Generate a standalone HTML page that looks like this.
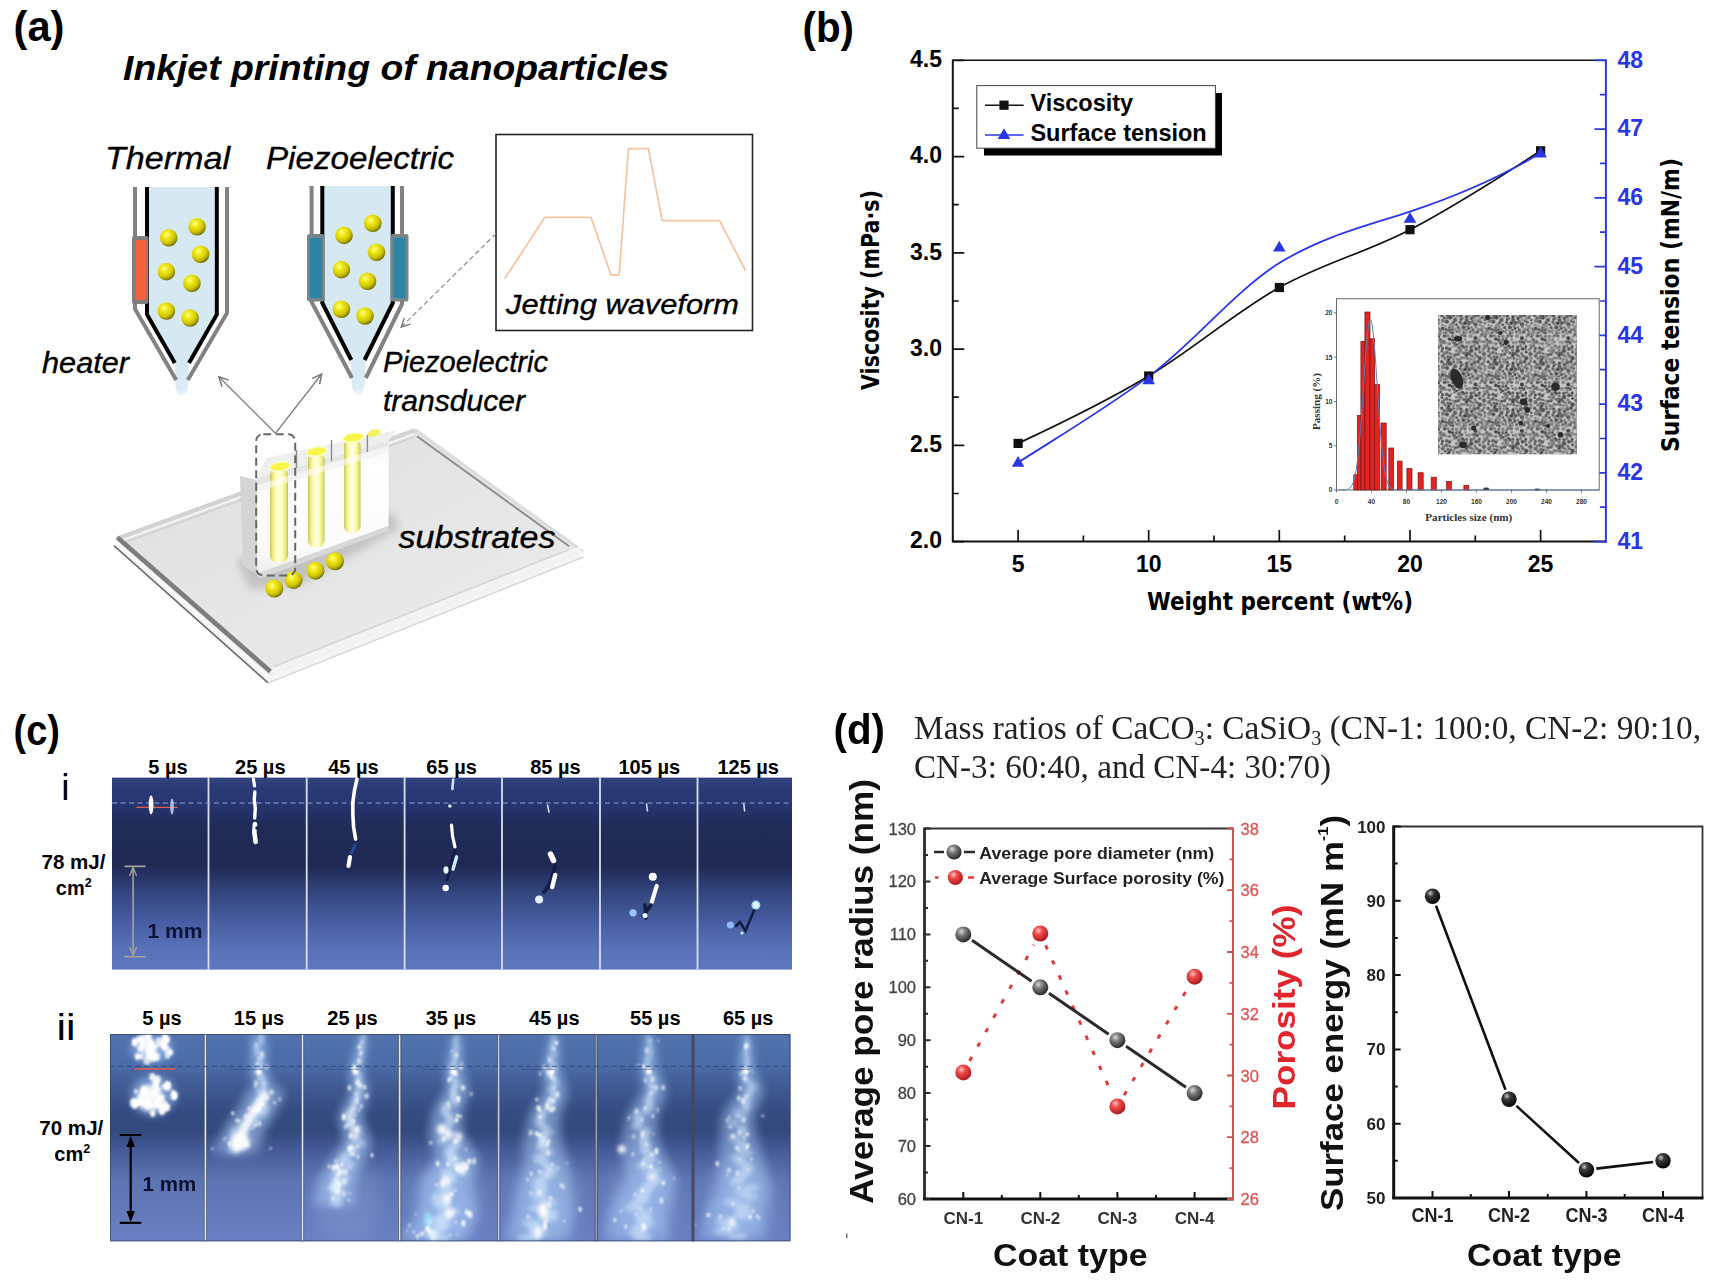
<!DOCTYPE html>
<html lang="en"><head><meta charset="utf-8"><title>Inkjet printing of nanoparticles</title>
<style>
html,body{margin:0;padding:0;background:#fff;}
body{width:1725px;height:1282px;overflow:hidden;position:relative;}
svg{position:absolute;left:0;top:0;display:block;}
text{font-family:"Liberation Sans",sans-serif;fill:#000;}
.cal{font-family:"Liberation Sans",sans-serif;}
.ver{font-family:"DejaVu Sans","Liberation Sans",sans-serif;}
.ser{font-family:"Liberation Serif",serif;}
.b{font-weight:bold;}
.i{font-style:italic;}
.th{stroke:#000;stroke-width:0.35px;}
</style></head><body>
<svg width="1725" height="1282" viewBox="0 0 1725 1282">
<defs>
<radialGradient id="gBall" cx="0.38" cy="0.33" r="0.72">
<stop offset="0" stop-color="#ffff8c"/><stop offset="0.3" stop-color="#efe814"/><stop offset="0.65" stop-color="#cfc600"/><stop offset="0.88" stop-color="#8f8800"/><stop offset="1" stop-color="#5a5600"/>
</radialGradient>
<radialGradient id="gGray" cx="0.38" cy="0.32" r="0.75">
<stop offset="0" stop-color="#d8d8d8"/><stop offset="0.35" stop-color="#7a7a7a"/><stop offset="1" stop-color="#1c1c1c"/>
</radialGradient>
<radialGradient id="gRed" cx="0.38" cy="0.32" r="0.75">
<stop offset="0" stop-color="#ffc0c0"/><stop offset="0.35" stop-color="#f04848"/><stop offset="1" stop-color="#a01414"/>
</radialGradient>
<radialGradient id="gBlk" cx="0.36" cy="0.3" r="0.75">
<stop offset="0" stop-color="#c8c8c8"/><stop offset="0.3" stop-color="#3a3a3a"/><stop offset="1" stop-color="#000"/>
</radialGradient>
<linearGradient id="gDropT" gradientUnits="userSpaceOnUse" x1="0" y1="360" x2="0" y2="397">
<stop offset="0" stop-color="#d6e9f3"/><stop offset="0.8" stop-color="#dbecf5"/><stop offset="1" stop-color="#e6f2f8" stop-opacity="0.55"/>
</linearGradient>
<linearGradient id="gDropP" gradientUnits="userSpaceOnUse" x1="0" y1="358" x2="0" y2="396">
<stop offset="0" stop-color="#d6e9f3"/><stop offset="0.8" stop-color="#dbecf5"/><stop offset="1" stop-color="#e6f2f8" stop-opacity="0.55"/>
</linearGradient>
<marker id="arG" viewBox="0 0 10 10" refX="9" refY="5" markerWidth="9" markerHeight="9" orient="auto-start-reverse">
<path d="M1,1 L9,5 L1,9" fill="none" stroke="#7a7a7a" stroke-width="1.3"/>
</marker>
<filter id="blur1" x="-20%" y="-20%" width="140%" height="140%"><feGaussianBlur stdDeviation="1"/></filter>
<filter id="blur2" x="-30%" y="-30%" width="160%" height="160%"><feGaussianBlur stdDeviation="2.2"/></filter>
<filter id="blur4" x="-40%" y="-40%" width="180%" height="180%"><feGaussianBlur stdDeviation="4.5"/></filter>
<filter id="blur8" x="-50%" y="-50%" width="200%" height="200%"><feGaussianBlur stdDeviation="9"/></filter>
<filter id="blurJ" x="-30%" y="-30%" width="160%" height="160%"><feGaussianBlur stdDeviation="0.55"/></filter>
<filter id="blurK" x="-30%" y="-30%" width="160%" height="160%"><feGaussianBlur stdDeviation="0.9"/></filter>
</defs>

<g id="panel-a">
<text class="b" x="13.5" y="41" font-size="43" textLength="51" lengthAdjust="spacingAndGlyphs">(a)</text>
<text class="b i" x="123" y="80" font-size="35" textLength="546" lengthAdjust="spacingAndGlyphs">Inkjet printing of nanoparticles</text>
<text class="i th" x="105" y="168.5" font-size="31" textLength="125" lengthAdjust="spacingAndGlyphs">Thermal</text>
<text class="i th" x="266" y="168.5" font-size="31" textLength="188" lengthAdjust="spacingAndGlyphs">Piezoelectric</text>
<text class="i th" x="42" y="372.5" font-size="29" textLength="87" lengthAdjust="spacingAndGlyphs">heater</text>
<text class="i th" x="383" y="371.5" font-size="29" textLength="165" lengthAdjust="spacingAndGlyphs">Piezoelectric</text>
<text class="i th" x="383" y="411" font-size="29" textLength="142" lengthAdjust="spacingAndGlyphs">transducer</text>

<!-- thermal nozzle -->
<g id="noz-thermal">
<path d="M174.5,360 L189,360 L188.3,384 Q187.5,396 181.8,396 Q176.2,396 175.4,384 Z" fill="url(#gDropT)"/>
<path d="M149,187 L214.5,187 L214.5,314 L188,362 L175.5,362 L149,314 Z" fill="#d6e9f3"/>
<path d="M135,187 L135,309 L176.2,380" fill="none" stroke="#828282" stroke-width="4"/>
<path d="M227,187 L227,313 L187.8,380" fill="none" stroke="#828282" stroke-width="4"/>
<path d="M147,187 L147,314.5 L174.8,363" fill="none" stroke="#000" stroke-width="4"/>
<path d="M216.8,187 L216.8,314.5 L189,363" fill="none" stroke="#000" stroke-width="4"/>
<rect x="132" y="236" width="16.5" height="68" rx="2" fill="#7f7f7f"/>
<rect x="136" y="240" width="10.5" height="60" fill="#f4623f"/>
<g fill="url(#gBall)">
<circle cx="197.1" cy="226.7" r="8.8"/><circle cx="168.7" cy="237.7" r="8.8"/><circle cx="200.6" cy="254.2" r="8.8"/>
<circle cx="166.4" cy="271.6" r="8.8"/><circle cx="191.9" cy="283.2" r="8.8"/><circle cx="166.4" cy="311" r="8.8"/><circle cx="190.1" cy="318" r="8.8"/>
</g>
</g>
<!-- piezo nozzle -->
<g id="noz-piezo">
<path d="M350.5,357 L365.5,357 L365,383 Q364.2,395 358.3,395 Q352.5,395 351.7,383 Z" fill="url(#gDropP)"/>
<path d="M324,186 L391,186 L391,303 L364.6,359 L351.3,359 L324,303 Z" fill="#d6e9f3"/>
<path d="M311.6,186 L311.6,302 L352,378" fill="none" stroke="#828282" stroke-width="4"/>
<path d="M402,186 L402,304 L365.8,378" fill="none" stroke="#828282" stroke-width="4"/>
<path d="M322.3,186 L322.3,303 L351.3,360" fill="none" stroke="#000" stroke-width="4"/>
<path d="M392.8,186 L392.8,303 L364.6,360" fill="none" stroke="#000" stroke-width="4"/>
<rect x="307" y="234" width="17.5" height="67.5" rx="2.5" fill="#77858a"/>
<rect x="310" y="238" width="12" height="60" fill="#2b86a3"/>
<rect x="390.5" y="234" width="18" height="67.5" rx="2.5" fill="#77858a"/>
<rect x="393.5" y="238" width="12" height="60" fill="#2b86a3"/>
<g fill="url(#gBall)">
<circle cx="372.8" cy="223.2" r="8.8"/><circle cx="344" cy="235.4" r="8.8"/><circle cx="376.5" cy="252.2" r="8.8"/>
<circle cx="341.4" cy="269.6" r="8.8"/><circle cx="367.5" cy="281.2" r="8.8"/><circle cx="341.4" cy="309.3" r="8.8"/><circle cx="365" cy="316" r="8.8"/>
</g>
</g>
<!-- arrows from dashed box -->
<path d="M275.4,433.3 L218.8,376.8" stroke="#7a7a7a" stroke-width="1.3" fill="none" marker-end="url(#arG)"/>
<path d="M275.4,433.3 L321.7,374" stroke="#7a7a7a" stroke-width="1.3" fill="none" marker-end="url(#arG)"/>
<!-- waveform box -->
<rect x="496" y="134.5" width="256.5" height="196" fill="#fff" stroke="#222" stroke-width="1.6"/>
<path d="M504.8,278.5 L544.8,217.4 L591,217.4 L611,274.8 L619.2,274.8 L628.4,148.7 L648.4,148.7 L662.1,220.6 L719.6,220.6 L745.8,271" fill="none" stroke="#f4c3a0" stroke-width="1.7" stroke-linejoin="round"/>
<text class="i th" x="506" y="313.5" font-size="28" textLength="233" lengthAdjust="spacingAndGlyphs">Jetting waveform</text>
<path d="M496,233.6 L401.2,327.2" stroke="#8a8a8a" stroke-width="1.2" stroke-dasharray="5,3" fill="none" marker-end="url(#arG)"/>

<!-- substrate plate -->
<g id="substrate">
<defs>
<linearGradient id="gPlate" x1="0" y1="0" x2="1" y2="1">
<stop offset="0" stop-color="#dedede"/><stop offset="0.5" stop-color="#e6e6e6"/><stop offset="1" stop-color="#ececec"/>
</linearGradient>
<linearGradient id="gCol" x1="0" y1="0" x2="1" y2="0">
<stop offset="0" stop-color="#c2c264"/><stop offset="0.12" stop-color="#e6e67a"/><stop offset="0.3" stop-color="#fbfbb4"/><stop offset="0.52" stop-color="#ffffe6"/><stop offset="0.72" stop-color="#fafaa8"/><stop offset="0.9" stop-color="#e4e470"/><stop offset="1" stop-color="#bcbc5a"/>
</linearGradient>
<linearGradient id="gFace" x1="0" y1="0" x2="0" y2="1">
<stop offset="0" stop-color="#f4f4f4"/><stop offset="0.2" stop-color="#ffffff"/><stop offset="0.8" stop-color="#fbfbfb"/><stop offset="1" stop-color="#ececec"/>
</linearGradient>
</defs>
<!-- lower plate -->
<path d="M113.5,545.5 L415,436 L583.5,557 L268,683 Z" fill="#f4f4f4"/>
<path d="M268,683 L583.5,557" stroke="#d9d9d9" stroke-width="1.5" fill="none"/>
<path d="M113.9,545.6 L267.8,682.6" stroke="#6e6e6e" stroke-width="1.6" fill="none"/>
<!-- upper plate -->
<path d="M115.5,538 L415,429 L583,551.5 L270,675.5 Z" fill="url(#gPlate)"/>
<!-- top-left rim -->
<path d="M117,539 L415,430.5" stroke="#d2d2d2" stroke-width="5" fill="none"/>
<path d="M118,541.5 L414,433.8" stroke="#f6f6f6" stroke-width="1.8" fill="none"/>
<path d="M121,543.8 L413,437.6" stroke="#cfcfcf" stroke-width="1.6" fill="none"/>
<!-- right rim -->
<path d="M415,429.5 L583,551.5" stroke="#dcdcdc" stroke-width="3" fill="none"/>
<path d="M417,436.3 L569.1,546.3" stroke="#8e8e8e" stroke-width="2" fill="none"/>
<!-- bottom-right rim -->
<path d="M270.5,672 L581,549" stroke="#f3f3f3" stroke-width="6" fill="none"/>
<path d="M274,666.5 L569,549.5" stroke="#d6d6d6" stroke-width="1.5" fill="none"/>
<!-- left dark edge -->
<path d="M117.4,537.6 L270.4,671.5" stroke="#7d7d7d" stroke-width="4.6" fill="none"/>
<path d="M115.2,541.6 L268.6,677.2" stroke="#fafafa" stroke-width="2" fill="none"/>
<!-- shadow under head -->
<path d="M236,560 L392,512 L400,528 L300,585 L250,590 Z" fill="#bdbdbd" filter="url(#blur4)" opacity="0.85"/>
</g>
<!-- print head -->
<g id="printhead">
<path d="M240,476 L257,480 L257,574 L243,566 Z" fill="#d4d4d4"/>
<path d="M257,478 L388.5,441 L388.5,526 L257,574 Z" fill="url(#gFace)"/>
<path d="M257,478 L388.5,441 L388.5,452 L257,492 Z" fill="#e6e6e6"/>
<path d="M257,478 L266,458 L397,430 L388.5,441 Z" fill="#efefef"/>
<path d="M257,574 L388.5,526 L388.5,531 L259,579 Z" fill="#d8d8d8"/>
<!-- columns -->
<rect x="270" y="468" width="18" height="94.5" rx="7" fill="url(#gCol)"/>
<rect x="308" y="452.5" width="16.5" height="95" rx="7" fill="url(#gCol)"/>
<rect x="344" y="438.5" width="16.5" height="94.5" rx="7" fill="url(#gCol)"/>
<path d="M257,492 L388.5,452 L388.5,446 L257,485 Z" fill="#ffffff" opacity="0.55"/>
<ellipse cx="280" cy="466.5" rx="10.5" ry="4.6" fill="#f8f64a" stroke="#fbfbd0" stroke-width="1.6" transform="rotate(-9 280 466.5)"/>
<ellipse cx="316.7" cy="451.5" rx="10.5" ry="4.6" fill="#f8f64a" stroke="#fbfbd0" stroke-width="1.6" transform="rotate(-9 316.7 451.5)"/>
<ellipse cx="353.4" cy="437.6" rx="10.5" ry="4.6" fill="#f8f64a" stroke="#fbfbd0" stroke-width="1.6" transform="rotate(-9 353.4 437.6)"/>
<ellipse cx="374" cy="433" rx="7" ry="3.6" fill="#f5f36a" transform="rotate(-14 374 433)"/>
<path d="M296.5,468 L296.5,450 M331.5,461 L331.5,440 M367.4,452 L367.4,435" stroke="#8c8c8c" stroke-width="1.4" fill="none"/>
<!-- balls -->
<g fill="url(#gBall)">
<circle cx="274.3" cy="588.6" r="9"/><circle cx="293.6" cy="580" r="9"/><circle cx="315.5" cy="570.7" r="9"/><circle cx="335" cy="561.3" r="9"/>
</g>
<rect x="256.2" y="434.2" width="39" height="141.2" rx="7" fill="none" stroke="#666" stroke-width="2" stroke-dasharray="8,4.5"/>
</g>
<text class="i th" x="398.5" y="547.7" font-size="31" textLength="157" lengthAdjust="spacingAndGlyphs">substrates</text>
</g>

<g id="panel-b">
<text class="b" x="802.5" y="41.7" font-size="43" textLength="51.5" lengthAdjust="spacingAndGlyphs">(b)</text>
<path d="M952.8,60.3 L1605.9,60.3" stroke="#111" stroke-width="1.6" fill="none"/>
<path d="M952.8,59.5 L952.8,541.6 L1606.9,541.6" stroke="#111" stroke-width="2" fill="none"/>
<path d="M1605.9,59.5 L1605.9,542.6" stroke="#2a36e6" stroke-width="2" fill="none"/>
<path d="M952.8,541.6 h11.5 M952.8,493.5 h6 M952.8,445.3 h11.5 M952.8,397.2 h6 M952.8,349.1 h11.5 M952.8,301.0 h6 M952.8,252.8 h11.5 M952.8,204.7 h6 M952.8,156.6 h11.5 M952.8,108.4 h6 M952.8,60.3 h11.5" stroke="#111" stroke-width="1.7" fill="none"/>
<path d="M1018.1,541.6 v-11.5 M1083.4,541.6 v-6 M1148.7,541.6 v-11.5 M1214.0,541.6 v-6 M1279.3,541.6 v-11.5 M1344.7,541.6 v-6 M1410.0,541.6 v-11.5 M1475.3,541.6 v-6 M1540.6,541.6 v-11.5" stroke="#111" stroke-width="1.7" fill="none"/>
<path d="M1605.9,541.6 h-11.5 M1605.9,507.2 h-6 M1605.9,472.8 h-11.5 M1605.9,438.5 h-6 M1605.9,404.1 h-11.5 M1605.9,369.7 h-6 M1605.9,335.3 h-11.5 M1605.9,301.0 h-6 M1605.9,266.6 h-11.5 M1605.9,232.2 h-6 M1605.9,197.8 h-11.5 M1605.9,163.4 h-6 M1605.9,129.1 h-11.5 M1605.9,94.7 h-6 M1605.9,60.3 h-11.5" stroke="#2a36e6" stroke-width="1.7" fill="none"/>
<text class="b" x="942" y="548.4" font-size="23" text-anchor="end">2.0</text>
<text class="b" x="942" y="452.1" font-size="23" text-anchor="end">2.5</text>
<text class="b" x="942" y="355.9" font-size="23" text-anchor="end">3.0</text>
<text class="b" x="942" y="259.6" font-size="23" text-anchor="end">3.5</text>
<text class="b" x="942" y="163.4" font-size="23" text-anchor="end">4.0</text>
<text class="b" x="942" y="67.1" font-size="23" text-anchor="end">4.5</text>
<text class="b" x="1018.1" y="571.5" font-size="23" text-anchor="middle">5</text>
<text class="b" x="1148.7" y="571.5" font-size="23" text-anchor="middle">10</text>
<text class="b" x="1279.3" y="571.5" font-size="23" text-anchor="middle">15</text>
<text class="b" x="1410.0" y="571.5" font-size="23" text-anchor="middle">20</text>
<text class="b" x="1540.6" y="571.5" font-size="23" text-anchor="middle">25</text>
<text class="b" x="1617.5" y="548.8" font-size="23" fill="#2a36e6" style="fill:#2a36e6">41</text>
<text class="b" x="1617.5" y="480.0" font-size="23" fill="#2a36e6" style="fill:#2a36e6">42</text>
<text class="b" x="1617.5" y="411.3" font-size="23" fill="#2a36e6" style="fill:#2a36e6">43</text>
<text class="b" x="1617.5" y="342.5" font-size="23" fill="#2a36e6" style="fill:#2a36e6">44</text>
<text class="b" x="1617.5" y="273.8" font-size="23" fill="#2a36e6" style="fill:#2a36e6">45</text>
<text class="b" x="1617.5" y="205.0" font-size="23" fill="#2a36e6" style="fill:#2a36e6">46</text>
<text class="b" x="1617.5" y="136.3" font-size="23" fill="#2a36e6" style="fill:#2a36e6">47</text>
<text class="b" x="1617.5" y="67.5" font-size="23" fill="#2a36e6" style="fill:#2a36e6">48</text>
<text class="ver b" transform="translate(878.5,390) rotate(-90)" font-size="24.5" textLength="200" lengthAdjust="spacingAndGlyphs">Viscosity (mPa·s)</text>
<text class="ver b" transform="translate(1679,452) rotate(-90)" font-size="24.5" textLength="294" lengthAdjust="spacingAndGlyphs">Surface tension (mN/m)</text>
<text class="ver b" x="1147" y="610" font-size="24.5" textLength="266" lengthAdjust="spacingAndGlyphs">Weight percent (wt%)</text>
<path d="M1018.1,443.4 C1061.7,423.0 1105.2,402.2 1148.7,376.0 C1192.3,349.9 1235.8,311.9 1279.3,287.5 C1322.9,263.1 1366.4,252.4 1410.0,229.7 C1453.5,207.1 1497.1,179.1 1540.6,150.8" stroke="#111" stroke-width="1.8" fill="none"/>
<path d="M1018.1,462.5 C1061.7,434.7 1105.2,408.8 1148.7,376.6 C1192.3,344.4 1235.8,290.1 1279.3,263.1 C1322.9,236.1 1366.4,225.9 1410.0,211.6 C1453.5,197.2 1497.1,179.2 1540.6,153.1" stroke="#2a36e6" stroke-width="1.8" fill="none"/>
<rect x="1013.5" y="438.8" width="9.2" height="9.2" fill="#111"/>
<rect x="1144.1" y="371.4" width="9.2" height="9.2" fill="#111"/>
<rect x="1274.8" y="282.9" width="9.2" height="9.2" fill="#111"/>
<rect x="1405.4" y="225.1" width="9.2" height="9.2" fill="#111"/>
<rect x="1536.0" y="146.2" width="9.2" height="9.2" fill="#111"/>
<path d="M1018.1,456.0 L1024.4,466.8 L1011.8,466.8 Z" fill="#2a36e6"/>
<path d="M1148.7,373.5 L1155.0,384.3 L1142.4,384.3 Z" fill="#2a36e6"/>
<path d="M1279.3,240.8 L1285.6,251.6 L1273.0,251.6 Z" fill="#2a36e6"/>
<path d="M1410.0,211.9 L1416.3,222.7 L1403.7,222.7 Z" fill="#2a36e6"/>
<path d="M1540.6,146.6 L1546.9,157.4 L1534.3,157.4 Z" fill="#2a36e6"/>
<rect x="984" y="93" width="238" height="62.5" fill="#000"/>
<rect x="976.8" y="85.6" width="238.6" height="62.6" fill="#fff" stroke="#444" stroke-width="1"/>
<path d="M985,105.2 H1023.6" stroke="#111" stroke-width="1.4"/><rect x="999.4" y="100.6" width="9.2" height="9.2" fill="#111"/>
<path d="M985,135 H1023.6" stroke="#2a36e6" stroke-width="1.4"/><path d="M1004,128.3 L1010.3,139.1 L997.7,139.1 Z" fill="#2a36e6"/>
<text class="b" x="1030.4" y="111" font-size="23.5">Viscosity</text>
<text class="b" x="1030.4" y="141" font-size="23.5">Surface tension</text>
<g id="inset">
<defs><pattern id="temP" x="1438" y="315" width="46.4" height="46.4" patternUnits="userSpaceOnUse"><rect width="46.4" height="46.4" fill="#c8c8c8"/><circle cx="21.5" cy="17.3" r="1.4" fill="#848484"/><circle cx="40.2" cy="0.3" r="1.8" fill="#505050"/><circle cx="40.2" cy="46.7" r="1.8" fill="#505050"/><circle cx="41.7" cy="3.7" r="1.8" fill="#8e8e8e"/><circle cx="28.6" cy="1.9" r="1.6" fill="#404040"/><circle cx="32.6" cy="21.0" r="2.0" fill="#848484"/><circle cx="7.3" cy="11.0" r="1.3" fill="#8e8e8e"/><circle cx="23.5" cy="42.9" r="1.8" fill="#7a7a7a"/><circle cx="35.9" cy="17.8" r="2.0" fill="#8e8e8e"/><circle cx="4.7" cy="13.5" r="1.9" fill="#505050"/><circle cx="12.4" cy="9.7" r="1.5" fill="#848484"/><circle cx="37.6" cy="9.3" r="2.2" fill="#5c5c5c"/><circle cx="22.8" cy="1.1" r="1.7" fill="#505050"/><circle cx="22.8" cy="47.5" r="1.7" fill="#505050"/><circle cx="5.6" cy="26.9" r="2.2" fill="#707070"/><circle cx="9.4" cy="0.4" r="1.3" fill="#505050"/><circle cx="9.4" cy="46.8" r="1.3" fill="#505050"/><circle cx="18.5" cy="29.6" r="1.3" fill="#404040"/><circle cx="26.9" cy="8.0" r="1.9" fill="#404040"/><circle cx="44.5" cy="2.5" r="1.8" fill="#666666"/><circle cx="-0.2" cy="-0.1" r="1.3" fill="#707070"/><circle cx="-0.2" cy="46.3" r="1.3" fill="#707070"/><circle cx="46.2" cy="-0.1" r="1.3" fill="#707070"/><circle cx="46.2" cy="46.3" r="1.3" fill="#707070"/><circle cx="32.7" cy="44.1" r="1.5" fill="#7a7a7a"/><circle cx="31.3" cy="27.4" r="2.1" fill="#8e8e8e"/><circle cx="27.1" cy="20.9" r="1.6" fill="#6a6a6a"/><circle cx="-0.6" cy="26.7" r="1.2" fill="#5c5c5c"/><circle cx="45.8" cy="26.7" r="1.2" fill="#5c5c5c"/><circle cx="9.9" cy="20.6" r="1.6" fill="#7a7a7a"/><circle cx="36.4" cy="1.2" r="2.1" fill="#666666"/><circle cx="36.4" cy="47.6" r="2.1" fill="#666666"/><circle cx="37.5" cy="23.1" r="2.0" fill="#404040"/><circle cx="11.5" cy="34.2" r="1.7" fill="#505050"/><circle cx="10.7" cy="44.7" r="1.6" fill="#404040"/><circle cx="17.3" cy="39.9" r="1.6" fill="#5c5c5c"/><circle cx="31.0" cy="7.9" r="2.1" fill="#5c5c5c"/><circle cx="12.0" cy="2.3" r="2.3" fill="#505050"/><circle cx="44.8" cy="16.5" r="1.4" fill="#7a7a7a"/><circle cx="25.8" cy="32.3" r="1.3" fill="#404040"/><circle cx="20.9" cy="32.7" r="2.0" fill="#707070"/><circle cx="33.2" cy="35.8" r="2.2" fill="#505050"/><circle cx="22.9" cy="4.6" r="1.3" fill="#404040"/><circle cx="3.9" cy="36.2" r="1.4" fill="#505050"/><circle cx="0.6" cy="8.2" r="1.7" fill="#848484"/><circle cx="47.0" cy="8.2" r="1.7" fill="#848484"/><circle cx="25.9" cy="18.0" r="1.4" fill="#5c5c5c"/><circle cx="41.2" cy="25.3" r="1.8" fill="#848484"/><circle cx="38.2" cy="33.9" r="1.9" fill="#505050"/><circle cx="28.5" cy="31.5" r="1.6" fill="#606060"/><circle cx="8.4" cy="3.0" r="1.6" fill="#707070"/><circle cx="21.8" cy="24.9" r="1.2" fill="#404040"/><circle cx="5.1" cy="5.6" r="2.2" fill="#7a7a7a"/><circle cx="29.5" cy="11.0" r="1.5" fill="#7a7a7a"/><circle cx="24.0" cy="9.2" r="1.7" fill="#848484"/><circle cx="39.5" cy="28.1" r="1.4" fill="#505050"/><circle cx="41.8" cy="43.2" r="2.2" fill="#505050"/><circle cx="14.7" cy="11.5" r="1.9" fill="#8e8e8e"/><circle cx="18.5" cy="9.7" r="1.5" fill="#5c5c5c"/><circle cx="21.4" cy="28.3" r="1.8" fill="#7a7a7a"/><circle cx="15.1" cy="7.9" r="1.8" fill="#606060"/><circle cx="8.7" cy="33.0" r="1.9" fill="#606060"/><circle cx="41.0" cy="34.0" r="1.4" fill="#707070"/><circle cx="25.1" cy="15.6" r="1.2" fill="#848484"/><circle cx="4.6" cy="33.3" r="1.5" fill="#505050"/><circle cx="24.8" cy="3.3" r="1.2" fill="#666666"/><circle cx="-0.2" cy="30.1" r="1.6" fill="#8e8e8e"/><circle cx="46.2" cy="30.1" r="1.6" fill="#8e8e8e"/><circle cx="32.0" cy="16.7" r="1.5" fill="#606060"/><circle cx="14.9" cy="17.9" r="1.4" fill="#505050"/><circle cx="28.4" cy="40.3" r="1.8" fill="#404040"/><circle cx="6.7" cy="20.9" r="1.9" fill="#5c5c5c"/><circle cx="10.8" cy="15.4" r="2.0" fill="#666666"/><circle cx="16.1" cy="27.9" r="1.8" fill="#5c5c5c"/><circle cx="36.1" cy="31.0" r="1.3" fill="#6a6a6a"/><circle cx="41.9" cy="10.0" r="1.4" fill="#8e8e8e"/><circle cx="-0.0" cy="43.4" r="2.0" fill="#848484"/><circle cx="46.4" cy="43.4" r="2.0" fill="#848484"/><circle cx="18.5" cy="21.5" r="1.9" fill="#848484"/><circle cx="1.7" cy="18.8" r="2.1" fill="#848484"/><circle cx="48.1" cy="18.8" r="2.1" fill="#848484"/><circle cx="21.1" cy="44.8" r="1.2" fill="#606060"/><circle cx="42.8" cy="7.1" r="1.6" fill="#666666"/><circle cx="14.5" cy="39.5" r="1.4" fill="#8e8e8e"/><circle cx="0.7" cy="21.6" r="1.3" fill="#505050"/><circle cx="47.1" cy="21.6" r="1.3" fill="#505050"/><circle cx="29.5" cy="43.4" r="1.6" fill="#6a6a6a"/><circle cx="39.3" cy="16.9" r="1.9" fill="#5c5c5c"/><circle cx="14.5" cy="21.2" r="1.5" fill="#666666"/><circle cx="4.8" cy="40.9" r="2.1" fill="#6a6a6a"/><circle cx="18.9" cy="44.2" r="1.4" fill="#7a7a7a"/><circle cx="19.6" cy="0.9" r="1.7" fill="#848484"/><circle cx="19.6" cy="47.3" r="1.7" fill="#848484"/><circle cx="1.4" cy="13.6" r="1.2" fill="#6a6a6a"/><circle cx="28.3" cy="17.7" r="1.5" fill="#8e8e8e"/><circle cx="24.4" cy="30.8" r="1.4" fill="#404040"/><circle cx="34.6" cy="41.3" r="1.4" fill="#707070"/><circle cx="33.6" cy="3.4" r="1.7" fill="#505050"/><circle cx="27.3" cy="24.7" r="1.4" fill="#848484"/><circle cx="43.6" cy="26.8" r="1.2" fill="#7a7a7a"/><circle cx="13.2" cy="32.6" r="1.3" fill="#8e8e8e"/><circle cx="23.7" cy="20.5" r="1.8" fill="#707070"/><circle cx="-1.8" cy="11.9" r="2.1" fill="#8e8e8e"/><circle cx="44.6" cy="11.9" r="2.1" fill="#8e8e8e"/><circle cx="28.2" cy="37.5" r="1.3" fill="#5c5c5c"/><circle cx="38.6" cy="41.0" r="1.8" fill="#6a6a6a"/><circle cx="-1.2" cy="34.5" r="1.7" fill="#7a7a7a"/><circle cx="45.2" cy="34.5" r="1.7" fill="#7a7a7a"/><circle cx="41.4" cy="31.6" r="1.4" fill="#404040"/><circle cx="33.2" cy="32.0" r="1.8" fill="#606060"/><circle cx="15.7" cy="0.8" r="1.5" fill="#666666"/><circle cx="15.7" cy="47.2" r="1.5" fill="#666666"/><circle cx="3.8" cy="0.4" r="1.6" fill="#505050"/><circle cx="3.8" cy="46.8" r="1.6" fill="#505050"/><circle cx="8.8" cy="37.4" r="1.9" fill="#666666"/><circle cx="9.7" cy="41.7" r="1.4" fill="#5c5c5c"/><circle cx="4.4" cy="10.0" r="1.2" fill="#7a7a7a"/><circle cx="25.5" cy="12.4" r="2.0" fill="#505050"/><circle cx="9.0" cy="6.6" r="2.0" fill="#505050"/><circle cx="6.3" cy="38.2" r="1.3" fill="#6a6a6a"/><circle cx="12.0" cy="38.6" r="1.3" fill="#606060"/><circle cx="12.5" cy="42.3" r="1.6" fill="#505050"/><circle cx="22.0" cy="7.3" r="1.4" fill="#505050"/><circle cx="5.6" cy="17.7" r="1.6" fill="#8e8e8e"/><circle cx="-0.4" cy="39.0" r="2.2" fill="#606060"/><circle cx="46.0" cy="39.0" r="2.2" fill="#606060"/><circle cx="11.4" cy="23.9" r="1.8" fill="#404040"/><circle cx="2.4" cy="24.8" r="1.8" fill="#666666"/><circle cx="28.7" cy="5.0" r="2.0" fill="#5c5c5c"/><circle cx="2.6" cy="28.1" r="1.4" fill="#848484"/><circle cx="23.8" cy="27.0" r="1.4" fill="#505050"/><circle cx="33.4" cy="12.2" r="1.2" fill="#707070"/><circle cx="37.5" cy="4.8" r="1.6" fill="#8e8e8e"/><circle cx="20.3" cy="39.2" r="1.7" fill="#5c5c5c"/><circle cx="41.8" cy="37.1" r="1.4" fill="#404040"/><circle cx="18.3" cy="35.9" r="1.3" fill="#6a6a6a"/><circle cx="16.7" cy="30.8" r="1.3" fill="#6a6a6a"/><circle cx="5.9" cy="2.6" r="1.3" fill="#606060"/><circle cx="18.6" cy="25.0" r="1.8" fill="#6a6a6a"/><circle cx="25.6" cy="38.1" r="1.5" fill="#606060"/><circle cx="7.1" cy="43.7" r="1.4" fill="#666666"/><circle cx="17.1" cy="4.9" r="2.2" fill="#606060"/><circle cx="12.7" cy="17.5" r="1.3" fill="#5c5c5c"/><circle cx="14.3" cy="25.0" r="1.8" fill="#505050"/><circle cx="20.3" cy="12.5" r="1.6" fill="#5c5c5c"/><circle cx="40.7" cy="14.3" r="1.5" fill="#7a7a7a"/><circle cx="7.8" cy="14.4" r="1.4" fill="#505050"/><circle cx="42.0" cy="21.7" r="1.2" fill="#848484"/><circle cx="15.9" cy="42.5" r="1.4" fill="#848484"/><circle cx="16.5" cy="14.2" r="1.6" fill="#8e8e8e"/><circle cx="2.5" cy="15.9" r="1.5" fill="#707070"/><circle cx="11.4" cy="12.4" r="1.4" fill="#606060"/><circle cx="22.3" cy="36.1" r="2.2" fill="#7a7a7a"/><circle cx="37.1" cy="38.4" r="1.3" fill="#606060"/><circle cx="28.5" cy="27.5" r="1.2" fill="#6a6a6a"/><circle cx="35.3" cy="26.7" r="1.5" fill="#5c5c5c"/><circle cx="44.0" cy="19.6" r="1.9" fill="#6a6a6a"/><circle cx="15.2" cy="44.9" r="1.3" fill="#707070"/><circle cx="37.8" cy="26.5" r="1.2" fill="#404040"/><circle cx="0.5" cy="32.5" r="1.4" fill="#606060"/><circle cx="46.9" cy="32.5" r="1.4" fill="#606060"/><circle cx="28.3" cy="34.7" r="1.7" fill="#7a7a7a"/><circle cx="31.6" cy="0.7" r="1.6" fill="#8e8e8e"/><circle cx="31.6" cy="47.1" r="1.6" fill="#8e8e8e"/><circle cx="40.4" cy="6.1" r="1.3" fill="#6a6a6a"/><circle cx="8.4" cy="28.3" r="1.4" fill="#8e8e8e"/><circle cx="11.5" cy="28.7" r="1.6" fill="#707070"/><circle cx="26.2" cy="42.9" r="1.2" fill="#666666"/><circle cx="28.0" cy="15.0" r="1.3" fill="#606060"/><circle cx="36.1" cy="44.1" r="1.7" fill="#8e8e8e"/><circle cx="2.9" cy="30.6" r="1.5" fill="#606060"/><circle cx="13.9" cy="14.7" r="1.6" fill="#5c5c5c"/><circle cx="38.1" cy="12.3" r="1.3" fill="#7a7a7a"/><circle cx="30.6" cy="13.4" r="1.4" fill="#404040"/><circle cx="43.3" cy="14.7" r="1.5" fill="#6a6a6a"/><circle cx="34.5" cy="7.0" r="2.0" fill="#707070"/><circle cx="34.8" cy="14.9" r="1.7" fill="#606060"/><circle cx="18.8" cy="16.2" r="1.5" fill="#707070"/><circle cx="32.6" cy="40.0" r="1.5" fill="#6a6a6a"/><circle cx="24.0" cy="33.0" r="1.3" fill="#848484"/><circle cx="36.7" cy="29.0" r="1.4" fill="#848484"/><circle cx="0.5" cy="5.0" r="1.2" fill="#505050"/><circle cx="46.9" cy="5.0" r="1.2" fill="#505050"/><circle cx="22.2" cy="22.6" r="1.4" fill="#7a7a7a"/><circle cx="21.7" cy="14.5" r="1.5" fill="#848484"/><circle cx="30.5" cy="38.3" r="1.6" fill="#505050"/><circle cx="8.1" cy="17.5" r="1.2" fill="#5c5c5c"/></pattern><filter id="temB" x="-2%" y="-2%" width="104%" height="104%"><feGaussianBlur stdDeviation="0.7"/></filter></defs>
<rect x="1336.5" y="298.7" width="262.7" height="191.3" fill="#fff" stroke="#6a6a6a" stroke-width="1"/>
<rect x="1438" y="315" width="138.8" height="139.2" fill="#9a9a9a"/>
<g filter="url(#temB)"><rect x="1438" y="315" width="138.8" height="139.2" fill="url(#temP)"/><ellipse cx="1456.8" cy="378.7" rx="5.6" ry="10.5" transform="rotate(-22 1456.8 378.7)" fill="#2c2c2c"/><ellipse cx="1458" cy="338.7" rx="4.2" ry="2.6" transform="rotate(0 1458 338.7)" fill="#2c2c2c"/><ellipse cx="1555.5" cy="386.8" rx="4.3" ry="4.3" transform="rotate(0 1555.5 386.8)" fill="#2c2c2c"/><ellipse cx="1523.6" cy="401.8" rx="3.8" ry="3.4" transform="rotate(0 1523.6 401.8)" fill="#2c2c2c"/><ellipse cx="1463" cy="444.8" rx="3.8" ry="3.4" transform="rotate(0 1463 444.8)" fill="#2c2c2c"/><ellipse cx="1527.4" cy="409.9" rx="2.8" ry="2.8" transform="rotate(0 1527.4 409.9)" fill="#2c2c2c"/><ellipse cx="1560.5" cy="434.8" rx="2.8" ry="2.8" transform="rotate(0 1560.5 434.8)" fill="#2c2c2c"/><ellipse cx="1487.4" cy="317.5" rx="2.5" ry="2.5" transform="rotate(0 1487.4 317.5)" fill="#2c2c2c"/><ellipse cx="1506" cy="342.5" rx="2.4" ry="2.4" transform="rotate(0 1506 342.5)" fill="#2c2c2c"/><ellipse cx="1521" cy="423" rx="2.2" ry="2.2" transform="rotate(0 1521 423)" fill="#2c2c2c"/><ellipse cx="1500.5" cy="333" rx="2" ry="2" transform="rotate(0 1500.5 333)" fill="#2c2c2c"/><ellipse cx="1548" cy="426" rx="2" ry="2" transform="rotate(0 1548 426)" fill="#2c2c2c"/><ellipse cx="1473.7" cy="428" rx="2.5" ry="2.5" transform="rotate(0 1473.7 428)" fill="#2c2c2c"/><ellipse cx="1553" cy="343" rx="8" ry="6" fill="#d8d8d8" opacity="0.3"/></g>
<rect x="1353.8" y="474.7" width="4.1" height="15.2" fill="#e32222" stroke="#7a1414" stroke-width="0.7"/>
<rect x="1357.4" y="415.5" width="3.4" height="74.4" fill="#e32222" stroke="#7a1414" stroke-width="0.7"/>
<rect x="1360.9" y="341.3" width="4.1" height="148.7" fill="#e32222" stroke="#7a1414" stroke-width="0.7"/>
<rect x="1364.9" y="312.0" width="5.1" height="177.9" fill="#e32222" stroke="#7a1414" stroke-width="0.7"/>
<rect x="1370.0" y="338.8" width="4.7" height="151.1" fill="#e32222" stroke="#7a1414" stroke-width="0.7"/>
<rect x="1374.6" y="384.5" width="4.9" height="105.5" fill="#e32222" stroke="#7a1414" stroke-width="0.7"/>
<rect x="1381.1" y="423.0" width="5.1" height="66.9" fill="#e32222" stroke="#7a1414" stroke-width="0.7"/>
<rect x="1388.8" y="448.0" width="4.9" height="42.0" fill="#e32222" stroke="#7a1414" stroke-width="0.7"/>
<rect x="1397.4" y="461.1" width="4.7" height="28.8" fill="#e32222" stroke="#7a1414" stroke-width="0.7"/>
<rect x="1406.9" y="468.6" width="5.1" height="21.3" fill="#e32222" stroke="#7a1414" stroke-width="0.7"/>
<rect x="1418.1" y="472.7" width="5.1" height="17.2" fill="#e32222" stroke="#7a1414" stroke-width="0.7"/>
<rect x="1431.2" y="477.2" width="5.1" height="12.8" fill="#e32222" stroke="#7a1414" stroke-width="0.7"/>
<rect x="1446.5" y="481.4" width="4.9" height="8.5" fill="#e32222" stroke="#7a1414" stroke-width="0.7"/>
<rect x="1463.9" y="485.3" width="4.9" height="4.7" fill="#e32222" stroke="#7a1414" stroke-width="0.7"/>
<ellipse cx="1486.2" cy="488.9" rx="3" ry="1.3" fill="#333"/>
<ellipse cx="1537.3" cy="489.5" rx="3" ry="1" fill="#333"/>
<path d="M1338.5,489.9 L1339.7,489.9 L1340.8,489.9 L1341.9,489.9 L1343.0,489.9 L1344.1,489.8 L1345.2,489.7 L1346.3,489.6 L1347.5,489.3 L1348.6,488.8 L1349.7,488.1 L1350.8,486.9 L1351.9,485.3 L1353.0,482.8 L1354.2,479.3 L1355.3,474.6 L1356.4,468.4 L1357.5,460.3 L1358.6,450.4 L1359.7,438.4 L1360.9,424.6 L1362.0,409.3 L1363.1,392.9 L1364.2,376.2 L1365.3,360.0 L1366.4,345.5 L1367.5,333.4 L1368.7,324.8 L1369.8,320.2 L1370.9,320.0 L1372.0,324.2 L1373.1,332.5 L1374.2,344.3 L1375.4,358.6 L1376.5,374.7 L1377.6,391.3 L1378.7,407.8 L1379.8,423.3 L1380.9,437.2 L1382.0,449.4 L1383.2,459.5 L1384.3,467.7 L1385.4,474.1 L1386.5,479.0 L1387.6,482.5 L1388.7,485.1 L1389.9,486.8 L1391.0,488.0 L1392.1,488.8 L1393.2,489.2 L1394.3,489.5 L1395.4,489.7 L1396.6,489.8 L1397.7,489.9 L1398.8,489.9 L1399.9,489.9 L1401.0,489.9 L1402.1,489.9 L1403.2,489.9 L1404.4,489.9 L1405.5,489.9 L1599.2,490.0" fill="none" stroke="#5d7fb0" stroke-width="1"/>
<path d="M1336.5,490.0 v2.5 M1371.5,490.0 v2.5 M1406.5,490.0 v2.5 M1441.5,490.0 v2.5 M1476.5,490.0 v2.5 M1511.5,490.0 v2.5 M1546.5,490.0 v2.5 M1581.5,490.0 v2.5 M1336.5,490.0 h-2.5 M1336.5,445.7 h-2.5 M1336.5,401.4 h-2.5 M1336.5,357.1 h-2.5 M1336.5,312.8 h-2.5" stroke="#555" stroke-width="0.8" fill="none"/>
<text class="b" x="1336.5" y="504.3" font-size="6.6" text-anchor="middle" style="fill:#333">0</text>
<text class="b" x="1371.5" y="504.3" font-size="6.6" text-anchor="middle" style="fill:#333">40</text>
<text class="b" x="1406.5" y="504.3" font-size="6.6" text-anchor="middle" style="fill:#333">80</text>
<text class="b" x="1441.5" y="504.3" font-size="6.6" text-anchor="middle" style="fill:#333">120</text>
<text class="b" x="1476.5" y="504.3" font-size="6.6" text-anchor="middle" style="fill:#333">160</text>
<text class="b" x="1511.5" y="504.3" font-size="6.6" text-anchor="middle" style="fill:#333">200</text>
<text class="b" x="1546.5" y="504.3" font-size="6.6" text-anchor="middle" style="fill:#333">240</text>
<text class="b" x="1581.5" y="504.3" font-size="6.6" text-anchor="middle" style="fill:#333">280</text>
<text class="b" x="1332.5" y="492.4" font-size="6.6" text-anchor="end" style="fill:#333">0</text>
<text class="b" x="1332.5" y="448.1" font-size="6.6" text-anchor="end" style="fill:#333">5</text>
<text class="b" x="1332.5" y="403.8" font-size="6.6" text-anchor="end" style="fill:#333">10</text>
<text class="b" x="1332.5" y="359.5" font-size="6.6" text-anchor="end" style="fill:#333">15</text>
<text class="b" x="1332.5" y="315.2" font-size="6.6" text-anchor="end" style="fill:#333">20</text>
<text class="ser b" x="1468.8" y="521.3" font-size="9.5" text-anchor="middle" textLength="87" lengthAdjust="spacingAndGlyphs" style="fill:#333">Particles size (nm)</text>
<text class="ser b" transform="translate(1320.3,401.5) rotate(-90)" font-size="9.5" text-anchor="middle" textLength="57" lengthAdjust="spacingAndGlyphs" style="fill:#333">Passing (%)</text>
</g>
</g>
<g id="panel-c">
<defs>
<linearGradient id="gS1" x1="0" y1="0" x2="0" y2="1">
<stop offset="0" stop-color="#33437f"/><stop offset="0.04" stop-color="#2c3c78"/><stop offset="0.14" stop-color="#273570"/><stop offset="0.26" stop-color="#202b58"/><stop offset="0.46" stop-color="#1f2954"/><stop offset="0.6" stop-color="#34467f"/><stop offset="0.74" stop-color="#465b9f"/><stop offset="0.88" stop-color="#5870b6"/><stop offset="1" stop-color="#5e77c0"/>
</linearGradient>
<linearGradient id="gS2" x1="0" y1="0" x2="0" y2="1">
<stop offset="0" stop-color="#5272ae"/><stop offset="0.14" stop-color="#4c6ca8"/><stop offset="0.26" stop-color="#405992"/><stop offset="0.38" stop-color="#354c82"/><stop offset="0.47" stop-color="#33487c"/><stop offset="0.56" stop-color="#465b97"/><stop offset="0.7" stop-color="#5c73b1"/><stop offset="1" stop-color="#6a80c3"/>
</linearGradient>
<clipPath id="clipS1"><rect x="112" y="777.6" width="680" height="192"/></clipPath>
<clipPath id="clipS2"><rect x="110" y="1034" width="680.5" height="207.3"/></clipPath>
</defs>
<text class="b" x="13.5" y="744.5" font-size="43" textLength="46.5" lengthAdjust="spacingAndGlyphs">(c)</text>
<rect x="112" y="777.6" width="680" height="192" fill="url(#gS1)"/>
<rect x="207.6" y="777.6" width="1.8" height="192" fill="#d9def2"/>
<rect x="305.8" y="777.6" width="1.8" height="192" fill="#d9def2"/>
<rect x="403.70000000000005" y="777.6" width="1.8" height="192" fill="#d9def2"/>
<rect x="501.1" y="777.6" width="1.8" height="192" fill="#d9def2"/>
<rect x="599.1" y="777.6" width="1.8" height="192" fill="#d9def2"/>
<rect x="696.6" y="777.6" width="1.8" height="192" fill="#d9def2"/>
<path d="M112,803 H792" stroke="#8799cc" stroke-width="1.3" stroke-dasharray="5,3.5" fill="none" opacity="0.75"/>
<text class="b" x="168" y="773.7" font-size="20" text-anchor="middle">5 µs</text>
<text class="b" x="260.3" y="773.7" font-size="20" text-anchor="middle">25 µs</text>
<text class="b" x="353.4" y="773.7" font-size="20" text-anchor="middle">45 µs</text>
<text class="b" x="451.6" y="773.7" font-size="20" text-anchor="middle">65 µs</text>
<text class="b" x="555.4" y="773.7" font-size="20" text-anchor="middle">85 µs</text>
<text class="b" x="649.3" y="773.7" font-size="20" text-anchor="middle">105 µs</text>
<text class="b" x="748.2" y="773.7" font-size="20" text-anchor="middle">125 µs</text>
<text class="b" x="162" y="1024.7" font-size="20" text-anchor="middle">5 µs</text>
<text class="b" x="259" y="1024.7" font-size="20" text-anchor="middle">15 µs</text>
<text class="b" x="352.5" y="1024.7" font-size="20" text-anchor="middle">25 µs</text>
<text class="b" x="450.9" y="1024.7" font-size="20" text-anchor="middle">35 µs</text>
<text class="b" x="554.3" y="1024.7" font-size="20" text-anchor="middle">45 µs</text>
<text class="b" x="655.3" y="1024.7" font-size="20" text-anchor="middle">55 µs</text>
<text class="b" x="748.2" y="1024.7" font-size="20" text-anchor="middle">65 µs</text>
<text x="61.3" y="800" font-size="37">i</text>
<text x="56.5" y="1040" font-size="37" textLength="19" lengthAdjust="spacingAndGlyphs">ii</text>
<text class="b" x="73.5" y="868.7" font-size="20" text-anchor="middle" textLength="64" lengthAdjust="spacingAndGlyphs">78 mJ/</text>
<text class="b" x="73.7" y="895" font-size="20" text-anchor="middle">cm<tspan font-size="12.5" dy="-8">2</tspan></text>
<text class="b" x="71.3" y="1135" font-size="20" text-anchor="middle" textLength="64" lengthAdjust="spacingAndGlyphs">70 mJ/</text>
<text class="b" x="72.2" y="1161" font-size="20" text-anchor="middle">cm<tspan font-size="12.5" dy="-8">2</tspan></text>
<g clip-path="url(#clipS1)"><g filter="url(#blurJ)"><path d="M136.5,807.4 H177.5" stroke="#e0604a" stroke-width="1.4" fill="none"/>
<ellipse cx="151.1" cy="804.7" rx="2.4" ry="9.5" fill="#fff"/>
<ellipse cx="172" cy="806.5" rx="1.8" ry="8" fill="#cfe0ff" opacity="0.8"/>
<path d="M253.4,779 L254.6,786" stroke="#fff" stroke-linecap="round" fill="none" stroke-width="3.2"/>
<path d="M254.8,792 L254.3,800 L255.3,808 L254.7,818" stroke="#fff" stroke-linecap="round" fill="none" stroke-width="3.4"/>
<path d="M255,824 L254.3,832 L255.6,842" stroke="#fff" stroke-linecap="round" fill="none" stroke-width="4.6"/>
<circle cx="257" cy="828" r="1.8" fill="#16204a"/>
<path d="M357,779 Q354,790 352.8,803 Q352.5,815 353.6,827 L355.6,839" stroke="#fff" stroke-linecap="round" fill="none" stroke-width="3.6"/>
<path d="M355,845 L351.5,853" stroke="#2a4a9a" stroke-width="3" stroke-linecap="round"/>
<path d="M350,857 L348.5,866" stroke="#fff" stroke-linecap="round" fill="none" stroke-width="4.2"/>
<path d="M453.3,779.5 L452.3,789" stroke="#cfe0ff" stroke-linecap="round" stroke-width="2.6"/>
<circle cx="449.9" cy="806" r="1.8" fill="#dfeaff"/>
<path d="M451.5,825 Q451.8,836 455,847" stroke="#fff" stroke-linecap="round" fill="none" stroke-width="3.2"/>
<path d="M456.5,857 L453,869" stroke="#bfe0ff" stroke-linecap="round" stroke-width="3.4"/>
<path d="M455,850 L447,880" stroke="#141c44" stroke-width="3" stroke-linecap="round" opacity="0.8"/>
<path d="M456.5,857 L453,869" stroke="#cfe6ff" stroke-linecap="round" stroke-width="3"/>
<ellipse cx="446" cy="870" rx="2.6" ry="3.8" fill="#e6f0ff"/>
<circle cx="445.7" cy="888" r="3.2" fill="#fff"/>
<path d="M547.5,805 L549,812" stroke="#cfe0ff" stroke-width="1.6" stroke-linecap="round"/>
<path d="M550.5,854 L553.5,860.5" stroke="#fff" stroke-linecap="round" fill="none" stroke-width="5.5"/>
<path d="M555,866 Q552,884 544,892" stroke="#121a40" stroke-width="4" stroke-linecap="round" fill="none" opacity="0.85"/>
<path d="M555.2,875 L552.2,887" stroke="#fff" stroke-linecap="round" fill="none" stroke-width="4.4"/>
<circle cx="539.1" cy="899.5" r="4" fill="#dff0ff"/>
<path d="M646.5,804 L647.5,811" stroke="#cfe0ff" stroke-width="1.6" stroke-linecap="round"/>
<circle cx="652.8" cy="876.8" r="4" fill="#fff"/>
<path d="M656.7,886 L651.8,902" stroke="#fff" stroke-linecap="round" fill="none" stroke-width="4.2"/>
<path d="M651,905 L643,916 M645,905 L646,918" stroke="#10183c" stroke-width="3.6" stroke-linecap="round" fill="none" opacity="0.9"/>
<circle cx="633" cy="912.8" r="3.6" fill="#9fc4ff"/>
<circle cx="645" cy="915.5" r="2.6" fill="#eaf4ff"/>
<path d="M743.8,804 L744.6,811" stroke="#cfe0ff" stroke-width="1.6" stroke-linecap="round"/>
<path d="M755,908 L745.5,931 L740,922 L736,926" stroke="#10183c" stroke-width="2.6" stroke-linecap="round" fill="none" opacity="0.9"/>
<circle cx="755.9" cy="905.1" r="4.5" fill="#a8d8ff"/>
<circle cx="755.9" cy="905.1" r="2.8" fill="#eaf6ff"/>
<circle cx="730.4" cy="925" r="3.6" fill="#8fb8ff"/>
<circle cx="742" cy="933" r="1.6" fill="#cfe6ff"/></g></g>
<g stroke="#a6a29c" stroke-width="1.6" fill="none"><path d="M124.5,866.4 H145.5 M124.5,956.7 H145.5 M133.1,868 V955"/><path d="M129.6,876 L133.1,867.5 L136.6,876 M129.6,947 L133.1,955.8 L136.6,947" stroke-width="1.3"/></g>
<text class="b" x="147.4" y="937.7" font-size="21" style="fill:#0e1438" textLength="55" lengthAdjust="spacingAndGlyphs">1 mm</text>
<rect x="110" y="1034" width="680.5" height="207.3" fill="url(#gS2)"/>
<g clip-path="url(#clipS2)">
<g filter="url(#blur8)"><ellipse cx="347" cy="1200" rx="34" ry="42" fill="#b4ccf4" opacity="0.16"/><ellipse cx="447" cy="1200" rx="34" ry="42" fill="#b4ccf4" opacity="0.3"/><ellipse cx="545" cy="1200" rx="34" ry="42" fill="#b4ccf4" opacity="0.3"/><ellipse cx="643" cy="1200" rx="34" ry="42" fill="#b4ccf4" opacity="0.3"/><ellipse cx="740" cy="1200" rx="34" ry="42" fill="#b4ccf4" opacity="0.3"/></g>
<g filter="url(#blur4)"><ellipse cx="152" cy="1049" rx="21" ry="14" fill="#a8d0ff" opacity="0.55"/>
<ellipse cx="153" cy="1095" rx="22" ry="20" fill="#a8d0ff" opacity="0.55"/>
<ellipse cx="259.0" cy="1036.0" rx="8.0" ry="7" fill="#a6c8f6" opacity="0.30"/>
<ellipse cx="259.0" cy="1041.1" rx="8.3" ry="7" fill="#a6c8f6" opacity="0.30"/>
<ellipse cx="258.9" cy="1046.2" rx="8.6" ry="7" fill="#a6c8f6" opacity="0.30"/>
<ellipse cx="258.9" cy="1051.3" rx="8.9" ry="7" fill="#a6c8f6" opacity="0.30"/>
<ellipse cx="258.8" cy="1056.5" rx="9.2" ry="7" fill="#a6c8f6" opacity="0.30"/>
<ellipse cx="258.8" cy="1061.6" rx="9.5" ry="7" fill="#a6c8f6" opacity="0.30"/>
<ellipse cx="258.7" cy="1066.7" rx="9.8" ry="7" fill="#a6c8f6" opacity="0.30"/>
<ellipse cx="259.0" cy="1071.8" rx="10.1" ry="7" fill="#a6c8f6" opacity="0.30"/>
<ellipse cx="260.6" cy="1076.6" rx="10.3" ry="7" fill="#a6c8f6" opacity="0.30"/>
<ellipse cx="262.3" cy="1081.4" rx="10.6" ry="7" fill="#a6c8f6" opacity="0.30"/>
<ellipse cx="264.0" cy="1086.3" rx="10.9" ry="7" fill="#a6c8f6" opacity="0.30"/>
<ellipse cx="265.7" cy="1091.1" rx="20.4" ry="7" fill="#a6c8f6" opacity="0.30"/>
<ellipse cx="264.1" cy="1095.7" rx="20.7" ry="7" fill="#a6c8f6" opacity="0.30"/>
<ellipse cx="261.9" cy="1100.3" rx="21.0" ry="7" fill="#a6c8f6" opacity="0.30"/>
<ellipse cx="259.6" cy="1104.9" rx="21.3" ry="7" fill="#a6c8f6" opacity="0.30"/>
<ellipse cx="257.3" cy="1109.4" rx="21.6" ry="7" fill="#a6c8f6" opacity="0.30"/>
<ellipse cx="254.8" cy="1113.9" rx="21.8" ry="7" fill="#a6c8f6" opacity="0.30"/>
<ellipse cx="251.9" cy="1118.1" rx="22.1" ry="7" fill="#a6c8f6" opacity="0.30"/>
<ellipse cx="249.1" cy="1122.4" rx="22.4" ry="7" fill="#a6c8f6" opacity="0.30"/>
<ellipse cx="246.2" cy="1126.6" rx="22.7" ry="7" fill="#a6c8f6" opacity="0.30"/>
<ellipse cx="243.6" cy="1131.0" rx="23.0" ry="7" fill="#a6c8f6" opacity="0.30"/>
<ellipse cx="241.7" cy="1135.8" rx="23.3" ry="7" fill="#a6c8f6" opacity="0.30"/>
<ellipse cx="239.8" cy="1140.5" rx="23.6" ry="7" fill="#a6c8f6" opacity="0.30"/>
<ellipse cx="237.9" cy="1145.3" rx="23.9" ry="7" fill="#a6c8f6" opacity="0.30"/>
<ellipse cx="236.0" cy="1150.0" rx="24.1" ry="7" fill="#a6c8f6" opacity="0.30"/>
<ellipse cx="363.0" cy="1037.0" rx="4.6" ry="7" fill="#a6c8f6" opacity="0.30"/>
<ellipse cx="362.0" cy="1041.9" rx="5.1" ry="7" fill="#a6c8f6" opacity="0.30"/>
<ellipse cx="361.0" cy="1046.9" rx="5.7" ry="7" fill="#a6c8f6" opacity="0.30"/>
<ellipse cx="360.0" cy="1051.8" rx="6.2" ry="7" fill="#a6c8f6" opacity="0.30"/>
<ellipse cx="359.1" cy="1056.7" rx="6.7" ry="7" fill="#a6c8f6" opacity="0.30"/>
<ellipse cx="358.1" cy="1061.6" rx="7.2" ry="7" fill="#a6c8f6" opacity="0.30"/>
<ellipse cx="357.1" cy="1066.6" rx="7.8" ry="7" fill="#a6c8f6" opacity="0.30"/>
<ellipse cx="356.1" cy="1071.5" rx="8.3" ry="7" fill="#a6c8f6" opacity="0.30"/>
<ellipse cx="356.9" cy="1076.4" rx="8.8" ry="7" fill="#a6c8f6" opacity="0.30"/>
<ellipse cx="357.9" cy="1081.3" rx="9.3" ry="7" fill="#a6c8f6" opacity="0.30"/>
<ellipse cx="358.9" cy="1086.3" rx="9.9" ry="7" fill="#a6c8f6" opacity="0.30"/>
<ellipse cx="359.8" cy="1091.2" rx="10.4" ry="7" fill="#a6c8f6" opacity="0.30"/>
<ellipse cx="358.4" cy="1095.9" rx="10.9" ry="7" fill="#a6c8f6" opacity="0.30"/>
<ellipse cx="356.6" cy="1100.6" rx="11.4" ry="7" fill="#a6c8f6" opacity="0.30"/>
<ellipse cx="354.7" cy="1105.2" rx="12.0" ry="7" fill="#a6c8f6" opacity="0.30"/>
<ellipse cx="352.8" cy="1109.9" rx="12.5" ry="7" fill="#a6c8f6" opacity="0.30"/>
<ellipse cx="351.0" cy="1114.5" rx="13.0" ry="7" fill="#a6c8f6" opacity="0.30"/>
<ellipse cx="350.7" cy="1119.3" rx="13.5" ry="7" fill="#a6c8f6" opacity="0.30"/>
<ellipse cx="352.3" cy="1124.1" rx="14.1" ry="7" fill="#a6c8f6" opacity="0.30"/>
<ellipse cx="353.8" cy="1128.8" rx="14.6" ry="7" fill="#a6c8f6" opacity="0.30"/>
<ellipse cx="355.3" cy="1133.6" rx="15.1" ry="7" fill="#a6c8f6" opacity="0.30"/>
<ellipse cx="356.8" cy="1138.4" rx="15.6" ry="7" fill="#a6c8f6" opacity="0.30"/>
<ellipse cx="357.4" cy="1143.1" rx="16.2" ry="7" fill="#a6c8f6" opacity="0.30"/>
<ellipse cx="354.9" cy="1147.5" rx="16.7" ry="7" fill="#a6c8f6" opacity="0.30"/>
<ellipse cx="352.4" cy="1151.8" rx="17.2" ry="7" fill="#a6c8f6" opacity="0.30"/>
<ellipse cx="350.0" cy="1156.2" rx="17.7" ry="7" fill="#a6c8f6" opacity="0.30"/>
<ellipse cx="347.5" cy="1160.6" rx="18.3" ry="7" fill="#a6c8f6" opacity="0.30"/>
<ellipse cx="345.0" cy="1165.0" rx="18.8" ry="7" fill="#a6c8f6" opacity="0.30"/>
<ellipse cx="342.9" cy="1169.5" rx="19.3" ry="7" fill="#a6c8f6" opacity="0.30"/>
<ellipse cx="340.7" cy="1174.0" rx="19.8" ry="7" fill="#a6c8f6" opacity="0.30"/>
<ellipse cx="338.6" cy="1178.6" rx="20.4" ry="7" fill="#a6c8f6" opacity="0.30"/>
<ellipse cx="336.4" cy="1183.1" rx="20.9" ry="7" fill="#a6c8f6" opacity="0.30"/>
<ellipse cx="335.6" cy="1188.0" rx="21.4" ry="7" fill="#a6c8f6" opacity="0.30"/>
<ellipse cx="335.1" cy="1193.0" rx="21.9" ry="7" fill="#a6c8f6" opacity="0.30"/>
<ellipse cx="334.5" cy="1198.0" rx="22.5" ry="7" fill="#a6c8f6" opacity="0.30"/>
<ellipse cx="334.0" cy="1203.0" rx="23.0" ry="7" fill="#a6c8f6" opacity="0.30"/>
<ellipse cx="457.0" cy="1038.0" rx="5.8" ry="7" fill="#a6c8f6" opacity="0.30"/>
<ellipse cx="456.6" cy="1043.0" rx="6.5" ry="7" fill="#a6c8f6" opacity="0.30"/>
<ellipse cx="456.1" cy="1048.1" rx="7.2" ry="7" fill="#a6c8f6" opacity="0.30"/>
<ellipse cx="455.7" cy="1053.1" rx="7.9" ry="7" fill="#a6c8f6" opacity="0.30"/>
<ellipse cx="455.2" cy="1058.2" rx="8.6" ry="7" fill="#a6c8f6" opacity="0.30"/>
<ellipse cx="454.8" cy="1063.2" rx="9.3" ry="7" fill="#a6c8f6" opacity="0.30"/>
<ellipse cx="454.3" cy="1068.2" rx="10.0" ry="7" fill="#a6c8f6" opacity="0.30"/>
<ellipse cx="454.3" cy="1073.3" rx="10.7" ry="7" fill="#a6c8f6" opacity="0.30"/>
<ellipse cx="455.4" cy="1078.2" rx="11.4" ry="7" fill="#a6c8f6" opacity="0.30"/>
<ellipse cx="456.5" cy="1083.1" rx="12.2" ry="7" fill="#a6c8f6" opacity="0.30"/>
<ellipse cx="457.6" cy="1088.1" rx="12.9" ry="7" fill="#a6c8f6" opacity="0.30"/>
<ellipse cx="456.6" cy="1092.8" rx="13.6" ry="7" fill="#a6c8f6" opacity="0.30"/>
<ellipse cx="454.4" cy="1097.3" rx="14.3" ry="7" fill="#a6c8f6" opacity="0.30"/>
<ellipse cx="452.1" cy="1101.8" rx="15.0" ry="7" fill="#a6c8f6" opacity="0.30"/>
<ellipse cx="449.8" cy="1106.3" rx="15.7" ry="7" fill="#a6c8f6" opacity="0.30"/>
<ellipse cx="447.6" cy="1110.9" rx="16.4" ry="7" fill="#a6c8f6" opacity="0.30"/>
<ellipse cx="446.8" cy="1115.8" rx="17.1" ry="7" fill="#a6c8f6" opacity="0.30"/>
<ellipse cx="446.6" cy="1120.8" rx="17.9" ry="7" fill="#a6c8f6" opacity="0.30"/>
<ellipse cx="446.4" cy="1125.9" rx="18.6" ry="7" fill="#a6c8f6" opacity="0.30"/>
<ellipse cx="446.1" cy="1130.9" rx="19.3" ry="7" fill="#a6c8f6" opacity="0.30"/>
<ellipse cx="446.8" cy="1135.8" rx="20.0" ry="7" fill="#a6c8f6" opacity="0.30"/>
<ellipse cx="449.0" cy="1140.4" rx="20.7" ry="7" fill="#a6c8f6" opacity="0.30"/>
<ellipse cx="451.1" cy="1145.0" rx="21.4" ry="7" fill="#a6c8f6" opacity="0.30"/>
<ellipse cx="453.2" cy="1149.6" rx="22.1" ry="7" fill="#a6c8f6" opacity="0.30"/>
<ellipse cx="455.3" cy="1154.2" rx="22.8" ry="7" fill="#a6c8f6" opacity="0.30"/>
<ellipse cx="457.4" cy="1158.8" rx="23.5" ry="7" fill="#a6c8f6" opacity="0.30"/>
<ellipse cx="456.2" cy="1163.3" rx="24.3" ry="7" fill="#a6c8f6" opacity="0.30"/>
<ellipse cx="453.8" cy="1167.7" rx="25.0" ry="7" fill="#a6c8f6" opacity="0.30"/>
<ellipse cx="451.4" cy="1172.1" rx="25.7" ry="7" fill="#a6c8f6" opacity="0.30"/>
<ellipse cx="449.0" cy="1176.6" rx="26.4" ry="7" fill="#a6c8f6" opacity="0.30"/>
<ellipse cx="446.5" cy="1181.0" rx="27.1" ry="7" fill="#a6c8f6" opacity="0.30"/>
<ellipse cx="446.3" cy="1185.9" rx="27.8" ry="7" fill="#a6c8f6" opacity="0.30"/>
<ellipse cx="446.6" cy="1191.0" rx="28.5" ry="7" fill="#a6c8f6" opacity="0.30"/>
<ellipse cx="446.9" cy="1196.0" rx="29.2" ry="7" fill="#a6c8f6" opacity="0.30"/>
<ellipse cx="447.3" cy="1201.1" rx="30.0" ry="7" fill="#a6c8f6" opacity="0.30"/>
<ellipse cx="447.6" cy="1206.1" rx="30.7" ry="7" fill="#a6c8f6" opacity="0.30"/>
<ellipse cx="447.9" cy="1211.2" rx="31.4" ry="7" fill="#a6c8f6" opacity="0.30"/>
<ellipse cx="446.0" cy="1215.7" rx="32.1" ry="7" fill="#a6c8f6" opacity="0.30"/>
<ellipse cx="443.6" cy="1220.2" rx="32.8" ry="7" fill="#a6c8f6" opacity="0.30"/>
<ellipse cx="441.2" cy="1224.6" rx="33.5" ry="7" fill="#a6c8f6" opacity="0.30"/>
<ellipse cx="438.8" cy="1229.1" rx="34.2" ry="7" fill="#a6c8f6" opacity="0.30"/>
<ellipse cx="436.4" cy="1233.5" rx="34.9" ry="7" fill="#a6c8f6" opacity="0.30"/>
<ellipse cx="434.0" cy="1238.0" rx="35.6" ry="7" fill="#a6c8f6" opacity="0.30"/>
<ellipse cx="554.0" cy="1038.0" rx="5.8" ry="7" fill="#a6c8f6" opacity="0.28"/>
<ellipse cx="553.6" cy="1043.1" rx="6.5" ry="7" fill="#a6c8f6" opacity="0.28"/>
<ellipse cx="553.3" cy="1048.2" rx="7.2" ry="7" fill="#a6c8f6" opacity="0.28"/>
<ellipse cx="552.9" cy="1053.3" rx="8.0" ry="7" fill="#a6c8f6" opacity="0.28"/>
<ellipse cx="552.6" cy="1058.4" rx="8.7" ry="7" fill="#a6c8f6" opacity="0.28"/>
<ellipse cx="552.2" cy="1063.5" rx="9.5" ry="7" fill="#a6c8f6" opacity="0.28"/>
<ellipse cx="551.8" cy="1068.7" rx="10.2" ry="7" fill="#a6c8f6" opacity="0.28"/>
<ellipse cx="552.0" cy="1073.7" rx="11.0" ry="7" fill="#a6c8f6" opacity="0.28"/>
<ellipse cx="553.1" cy="1078.7" rx="11.7" ry="7" fill="#a6c8f6" opacity="0.28"/>
<ellipse cx="554.2" cy="1083.7" rx="12.5" ry="7" fill="#a6c8f6" opacity="0.28"/>
<ellipse cx="555.3" cy="1088.7" rx="13.2" ry="7" fill="#a6c8f6" opacity="0.28"/>
<ellipse cx="555.2" cy="1093.6" rx="14.0" ry="7" fill="#a6c8f6" opacity="0.28"/>
<ellipse cx="552.8" cy="1098.1" rx="14.7" ry="7" fill="#a6c8f6" opacity="0.28"/>
<ellipse cx="550.4" cy="1102.7" rx="15.5" ry="7" fill="#a6c8f6" opacity="0.28"/>
<ellipse cx="548.1" cy="1107.2" rx="16.2" ry="7" fill="#a6c8f6" opacity="0.28"/>
<ellipse cx="545.7" cy="1111.7" rx="17.0" ry="7" fill="#a6c8f6" opacity="0.28"/>
<ellipse cx="544.3" cy="1116.6" rx="17.7" ry="7" fill="#a6c8f6" opacity="0.28"/>
<ellipse cx="543.8" cy="1121.7" rx="18.5" ry="7" fill="#a6c8f6" opacity="0.28"/>
<ellipse cx="543.4" cy="1126.8" rx="19.2" ry="7" fill="#a6c8f6" opacity="0.28"/>
<ellipse cx="542.9" cy="1131.9" rx="20.0" ry="7" fill="#a6c8f6" opacity="0.28"/>
<ellipse cx="542.4" cy="1137.0" rx="20.7" ry="7" fill="#a6c8f6" opacity="0.28"/>
<ellipse cx="542.0" cy="1142.1" rx="21.4" ry="7" fill="#a6c8f6" opacity="0.28"/>
<ellipse cx="543.1" cy="1147.1" rx="22.2" ry="7" fill="#a6c8f6" opacity="0.28"/>
<ellipse cx="544.1" cy="1152.1" rx="22.9" ry="7" fill="#a6c8f6" opacity="0.28"/>
<ellipse cx="545.1" cy="1157.1" rx="23.7" ry="7" fill="#a6c8f6" opacity="0.28"/>
<ellipse cx="546.2" cy="1162.1" rx="24.4" ry="7" fill="#a6c8f6" opacity="0.28"/>
<ellipse cx="546.9" cy="1167.2" rx="25.2" ry="7" fill="#a6c8f6" opacity="0.28"/>
<ellipse cx="546.3" cy="1172.2" rx="25.9" ry="7" fill="#a6c8f6" opacity="0.28"/>
<ellipse cx="545.8" cy="1177.3" rx="26.7" ry="7" fill="#a6c8f6" opacity="0.28"/>
<ellipse cx="545.3" cy="1182.4" rx="27.4" ry="7" fill="#a6c8f6" opacity="0.28"/>
<ellipse cx="544.8" cy="1187.5" rx="28.2" ry="7" fill="#a6c8f6" opacity="0.28"/>
<ellipse cx="544.3" cy="1192.6" rx="28.9" ry="7" fill="#a6c8f6" opacity="0.28"/>
<ellipse cx="544.0" cy="1197.7" rx="29.7" ry="7" fill="#a6c8f6" opacity="0.28"/>
<ellipse cx="543.6" cy="1202.9" rx="30.4" ry="7" fill="#a6c8f6" opacity="0.28"/>
<ellipse cx="543.3" cy="1208.0" rx="31.2" ry="7" fill="#a6c8f6" opacity="0.28"/>
<ellipse cx="542.8" cy="1213.0" rx="31.9" ry="7" fill="#a6c8f6" opacity="0.28"/>
<ellipse cx="541.6" cy="1218.0" rx="32.7" ry="7" fill="#a6c8f6" opacity="0.28"/>
<ellipse cx="540.5" cy="1223.0" rx="33.4" ry="7" fill="#a6c8f6" opacity="0.28"/>
<ellipse cx="539.3" cy="1228.0" rx="34.2" ry="7" fill="#a6c8f6" opacity="0.28"/>
<ellipse cx="538.2" cy="1233.0" rx="34.9" ry="7" fill="#a6c8f6" opacity="0.28"/>
<ellipse cx="537.0" cy="1238.0" rx="35.6" ry="7" fill="#a6c8f6" opacity="0.28"/>
<ellipse cx="649.0" cy="1038.0" rx="5.8" ry="7" fill="#a6c8f6" opacity="0.27"/>
<ellipse cx="649.0" cy="1043.1" rx="6.5" ry="7" fill="#a6c8f6" opacity="0.27"/>
<ellipse cx="649.0" cy="1048.2" rx="7.2" ry="7" fill="#a6c8f6" opacity="0.27"/>
<ellipse cx="649.0" cy="1053.3" rx="7.9" ry="7" fill="#a6c8f6" opacity="0.27"/>
<ellipse cx="649.0" cy="1058.4" rx="8.7" ry="7" fill="#a6c8f6" opacity="0.27"/>
<ellipse cx="649.0" cy="1063.5" rx="9.4" ry="7" fill="#a6c8f6" opacity="0.27"/>
<ellipse cx="649.0" cy="1068.6" rx="10.1" ry="7" fill="#a6c8f6" opacity="0.27"/>
<ellipse cx="649.8" cy="1073.6" rx="10.9" ry="7" fill="#a6c8f6" opacity="0.27"/>
<ellipse cx="651.4" cy="1078.4" rx="11.6" ry="7" fill="#a6c8f6" opacity="0.27"/>
<ellipse cx="652.9" cy="1083.3" rx="12.3" ry="7" fill="#a6c8f6" opacity="0.27"/>
<ellipse cx="654.4" cy="1088.2" rx="13.0" ry="7" fill="#a6c8f6" opacity="0.27"/>
<ellipse cx="653.6" cy="1092.8" rx="13.8" ry="7" fill="#a6c8f6" opacity="0.27"/>
<ellipse cx="651.3" cy="1097.4" rx="14.5" ry="7" fill="#a6c8f6" opacity="0.27"/>
<ellipse cx="649.0" cy="1102.0" rx="15.2" ry="7" fill="#a6c8f6" opacity="0.27"/>
<ellipse cx="646.7" cy="1106.5" rx="16.0" ry="7" fill="#a6c8f6" opacity="0.27"/>
<ellipse cx="644.5" cy="1111.1" rx="16.7" ry="7" fill="#a6c8f6" opacity="0.27"/>
<ellipse cx="642.2" cy="1115.7" rx="17.4" ry="7" fill="#a6c8f6" opacity="0.27"/>
<ellipse cx="641.6" cy="1120.7" rx="18.1" ry="7" fill="#a6c8f6" opacity="0.27"/>
<ellipse cx="641.2" cy="1125.8" rx="18.9" ry="7" fill="#a6c8f6" opacity="0.27"/>
<ellipse cx="640.9" cy="1130.9" rx="19.6" ry="7" fill="#a6c8f6" opacity="0.27"/>
<ellipse cx="640.5" cy="1136.0" rx="20.3" ry="7" fill="#a6c8f6" opacity="0.27"/>
<ellipse cx="640.1" cy="1141.0" rx="21.1" ry="7" fill="#a6c8f6" opacity="0.27"/>
<ellipse cx="641.2" cy="1146.0" rx="21.8" ry="7" fill="#a6c8f6" opacity="0.27"/>
<ellipse cx="642.6" cy="1150.9" rx="22.5" ry="7" fill="#a6c8f6" opacity="0.27"/>
<ellipse cx="644.0" cy="1155.8" rx="23.3" ry="7" fill="#a6c8f6" opacity="0.27"/>
<ellipse cx="645.4" cy="1160.7" rx="24.0" ry="7" fill="#a6c8f6" opacity="0.27"/>
<ellipse cx="646.9" cy="1165.6" rx="24.7" ry="7" fill="#a6c8f6" opacity="0.27"/>
<ellipse cx="648.8" cy="1170.3" rx="25.4" ry="7" fill="#a6c8f6" opacity="0.27"/>
<ellipse cx="650.7" cy="1175.0" rx="26.2" ry="7" fill="#a6c8f6" opacity="0.27"/>
<ellipse cx="651.3" cy="1179.7" rx="26.9" ry="7" fill="#a6c8f6" opacity="0.27"/>
<ellipse cx="649.3" cy="1184.4" rx="27.6" ry="7" fill="#a6c8f6" opacity="0.27"/>
<ellipse cx="647.4" cy="1189.1" rx="28.4" ry="7" fill="#a6c8f6" opacity="0.27"/>
<ellipse cx="645.4" cy="1193.8" rx="29.1" ry="7" fill="#a6c8f6" opacity="0.27"/>
<ellipse cx="643.4" cy="1198.5" rx="29.8" ry="7" fill="#a6c8f6" opacity="0.27"/>
<ellipse cx="641.6" cy="1203.3" rx="30.5" ry="7" fill="#a6c8f6" opacity="0.27"/>
<ellipse cx="639.9" cy="1208.1" rx="31.3" ry="7" fill="#a6c8f6" opacity="0.27"/>
<ellipse cx="638.2" cy="1212.9" rx="32.0" ry="7" fill="#a6c8f6" opacity="0.27"/>
<ellipse cx="636.5" cy="1217.7" rx="32.7" ry="7" fill="#a6c8f6" opacity="0.27"/>
<ellipse cx="636.2" cy="1222.7" rx="33.5" ry="7" fill="#a6c8f6" opacity="0.27"/>
<ellipse cx="636.5" cy="1227.8" rx="34.2" ry="7" fill="#a6c8f6" opacity="0.27"/>
<ellipse cx="636.7" cy="1232.9" rx="34.9" ry="7" fill="#a6c8f6" opacity="0.27"/>
<ellipse cx="637.0" cy="1238.0" rx="35.6" ry="7" fill="#a6c8f6" opacity="0.27"/>
<ellipse cx="746.5" cy="1038.0" rx="5.8" ry="7" fill="#a6c8f6" opacity="0.26"/>
<ellipse cx="746.4" cy="1043.0" rx="6.5" ry="7" fill="#a6c8f6" opacity="0.26"/>
<ellipse cx="746.3" cy="1048.0" rx="7.2" ry="7" fill="#a6c8f6" opacity="0.26"/>
<ellipse cx="746.2" cy="1053.0" rx="7.9" ry="7" fill="#a6c8f6" opacity="0.26"/>
<ellipse cx="746.1" cy="1058.0" rx="8.7" ry="7" fill="#a6c8f6" opacity="0.26"/>
<ellipse cx="746.0" cy="1063.0" rx="9.4" ry="7" fill="#a6c8f6" opacity="0.26"/>
<ellipse cx="745.9" cy="1068.0" rx="10.1" ry="7" fill="#a6c8f6" opacity="0.26"/>
<ellipse cx="746.4" cy="1072.9" rx="10.9" ry="7" fill="#a6c8f6" opacity="0.26"/>
<ellipse cx="748.0" cy="1077.7" rx="11.6" ry="7" fill="#a6c8f6" opacity="0.26"/>
<ellipse cx="749.5" cy="1082.4" rx="12.3" ry="7" fill="#a6c8f6" opacity="0.26"/>
<ellipse cx="751.1" cy="1087.2" rx="13.0" ry="7" fill="#a6c8f6" opacity="0.26"/>
<ellipse cx="751.0" cy="1091.8" rx="13.8" ry="7" fill="#a6c8f6" opacity="0.26"/>
<ellipse cx="748.5" cy="1096.1" rx="14.5" ry="7" fill="#a6c8f6" opacity="0.26"/>
<ellipse cx="746.0" cy="1100.4" rx="15.2" ry="7" fill="#a6c8f6" opacity="0.26"/>
<ellipse cx="743.5" cy="1104.8" rx="16.0" ry="7" fill="#a6c8f6" opacity="0.26"/>
<ellipse cx="741.0" cy="1109.1" rx="16.7" ry="7" fill="#a6c8f6" opacity="0.26"/>
<ellipse cx="738.5" cy="1113.4" rx="17.4" ry="7" fill="#a6c8f6" opacity="0.26"/>
<ellipse cx="737.2" cy="1118.0" rx="18.1" ry="7" fill="#a6c8f6" opacity="0.26"/>
<ellipse cx="737.5" cy="1123.0" rx="18.9" ry="7" fill="#a6c8f6" opacity="0.26"/>
<ellipse cx="737.9" cy="1128.0" rx="19.6" ry="7" fill="#a6c8f6" opacity="0.26"/>
<ellipse cx="738.3" cy="1133.0" rx="20.3" ry="7" fill="#a6c8f6" opacity="0.26"/>
<ellipse cx="738.7" cy="1138.0" rx="21.1" ry="7" fill="#a6c8f6" opacity="0.26"/>
<ellipse cx="739.1" cy="1142.9" rx="21.8" ry="7" fill="#a6c8f6" opacity="0.26"/>
<ellipse cx="739.7" cy="1147.9" rx="22.5" ry="7" fill="#a6c8f6" opacity="0.26"/>
<ellipse cx="740.4" cy="1152.9" rx="23.3" ry="7" fill="#a6c8f6" opacity="0.26"/>
<ellipse cx="741.0" cy="1157.8" rx="24.0" ry="7" fill="#a6c8f6" opacity="0.26"/>
<ellipse cx="741.6" cy="1162.8" rx="24.7" ry="7" fill="#a6c8f6" opacity="0.26"/>
<ellipse cx="742.2" cy="1167.8" rx="25.4" ry="7" fill="#a6c8f6" opacity="0.26"/>
<ellipse cx="742.6" cy="1172.8" rx="26.2" ry="7" fill="#a6c8f6" opacity="0.26"/>
<ellipse cx="743.1" cy="1177.7" rx="26.9" ry="7" fill="#a6c8f6" opacity="0.26"/>
<ellipse cx="743.5" cy="1182.7" rx="27.6" ry="7" fill="#a6c8f6" opacity="0.26"/>
<ellipse cx="744.0" cy="1187.7" rx="28.4" ry="7" fill="#a6c8f6" opacity="0.26"/>
<ellipse cx="742.4" cy="1192.4" rx="29.1" ry="7" fill="#a6c8f6" opacity="0.26"/>
<ellipse cx="740.7" cy="1197.1" rx="29.8" ry="7" fill="#a6c8f6" opacity="0.26"/>
<ellipse cx="739.0" cy="1201.8" rx="30.5" ry="7" fill="#a6c8f6" opacity="0.26"/>
<ellipse cx="737.3" cy="1206.5" rx="31.3" ry="7" fill="#a6c8f6" opacity="0.26"/>
<ellipse cx="735.8" cy="1211.3" rx="32.0" ry="7" fill="#a6c8f6" opacity="0.26"/>
<ellipse cx="735.0" cy="1216.2" rx="32.7" ry="7" fill="#a6c8f6" opacity="0.26"/>
<ellipse cx="734.3" cy="1221.2" rx="33.5" ry="7" fill="#a6c8f6" opacity="0.26"/>
<ellipse cx="733.5" cy="1226.1" rx="34.2" ry="7" fill="#a6c8f6" opacity="0.26"/>
<ellipse cx="732.8" cy="1231.1" rx="34.9" ry="7" fill="#a6c8f6" opacity="0.26"/>
<ellipse cx="732.0" cy="1236.0" rx="35.6" ry="7" fill="#a6c8f6" opacity="0.26"/></g>
<g filter="url(#blur2)"><ellipse cx="150" cy="1098" rx="13" ry="13" fill="#fff" opacity="0.9"/>
<ellipse cx="148" cy="1047" rx="10" ry="8" fill="#fff" opacity="0.75"/>
<ellipse cx="261.2" cy="1036.0" rx="2.2" ry="4.2" fill="#d8ecff" opacity="0.50"/>
<ellipse cx="261.2" cy="1041.1" rx="2.3" ry="4.2" fill="#d8ecff" opacity="0.50"/>
<ellipse cx="256.6" cy="1046.2" rx="2.4" ry="4.2" fill="#d8ecff" opacity="0.50"/>
<ellipse cx="256.6" cy="1051.3" rx="2.5" ry="4.2" fill="#d8ecff" opacity="0.50"/>
<ellipse cx="260.7" cy="1056.5" rx="2.6" ry="4.2" fill="#d8ecff" opacity="0.50"/>
<ellipse cx="260.1" cy="1061.6" rx="2.6" ry="4.2" fill="#d8ecff" opacity="0.50"/>
<ellipse cx="259.7" cy="1066.7" rx="2.7" ry="4.2" fill="#d8ecff" opacity="0.50"/>
<ellipse cx="257.8" cy="1071.8" rx="2.8" ry="4.2" fill="#d8ecff" opacity="0.50"/>
<ellipse cx="261.3" cy="1076.6" rx="2.9" ry="4.2" fill="#d8ecff" opacity="0.50"/>
<ellipse cx="263.0" cy="1081.4" rx="3.0" ry="4.2" fill="#d8ecff" opacity="0.50"/>
<ellipse cx="264.5" cy="1086.3" rx="3.0" ry="4.2" fill="#d8ecff" opacity="0.50"/>
<ellipse cx="261.4" cy="1091.1" rx="5.7" ry="4.2" fill="#d8ecff" opacity="0.50"/>
<ellipse cx="263.3" cy="1095.7" rx="5.8" ry="4.2" fill="#d8ecff" opacity="0.50"/>
<ellipse cx="260.5" cy="1100.3" rx="5.8" ry="4.2" fill="#d8ecff" opacity="0.50"/>
<ellipse cx="262.5" cy="1104.9" rx="5.9" ry="4.2" fill="#d8ecff" opacity="0.50"/>
<ellipse cx="263.8" cy="1109.4" rx="6.0" ry="4.2" fill="#d8ecff" opacity="0.50"/>
<ellipse cx="260.7" cy="1113.9" rx="6.1" ry="4.2" fill="#d8ecff" opacity="0.50"/>
<ellipse cx="252.5" cy="1118.1" rx="6.2" ry="4.2" fill="#d8ecff" opacity="0.50"/>
<ellipse cx="248.3" cy="1122.4" rx="6.2" ry="4.2" fill="#d8ecff" opacity="0.50"/>
<ellipse cx="243.0" cy="1126.6" rx="6.3" ry="4.2" fill="#d8ecff" opacity="0.50"/>
<ellipse cx="237.1" cy="1131.0" rx="6.4" ry="4.2" fill="#d8ecff" opacity="0.50"/>
<ellipse cx="235.0" cy="1135.8" rx="6.5" ry="4.2" fill="#d8ecff" opacity="0.50"/>
<ellipse cx="239.3" cy="1140.5" rx="6.6" ry="4.2" fill="#d8ecff" opacity="0.50"/>
<ellipse cx="235.3" cy="1145.3" rx="6.6" ry="4.2" fill="#d8ecff" opacity="0.50"/>
<ellipse cx="234.2" cy="1150.0" rx="6.7" ry="4.2" fill="#d8ecff" opacity="0.50"/>
<path d="M265,1096 Q250,1112 245,1128 Q240,1140 237,1148" stroke="#fff" stroke-width="9" stroke-linecap="round" fill="none" opacity="0.85"/>
<ellipse cx="240" cy="1142" rx="10" ry="9" fill="#fff" opacity="0.9"/>
<ellipse cx="363.3" cy="1037.0" rx="1.8" ry="4.2" fill="#d8ecff" opacity="0.50"/>
<ellipse cx="362.8" cy="1041.9" rx="1.8" ry="4.2" fill="#d8ecff" opacity="0.50"/>
<ellipse cx="362.0" cy="1046.9" rx="1.8" ry="4.2" fill="#d8ecff" opacity="0.50"/>
<ellipse cx="361.7" cy="1051.8" rx="1.8" ry="4.2" fill="#d8ecff" opacity="0.50"/>
<ellipse cx="360.0" cy="1056.7" rx="1.9" ry="4.2" fill="#d8ecff" opacity="0.50"/>
<ellipse cx="359.9" cy="1061.6" rx="2.0" ry="4.2" fill="#d8ecff" opacity="0.50"/>
<ellipse cx="354.9" cy="1066.6" rx="2.2" ry="4.2" fill="#d8ecff" opacity="0.50"/>
<ellipse cx="355.9" cy="1071.5" rx="2.3" ry="4.2" fill="#d8ecff" opacity="0.50"/>
<ellipse cx="359.3" cy="1076.4" rx="2.5" ry="4.2" fill="#d8ecff" opacity="0.50"/>
<ellipse cx="358.7" cy="1081.3" rx="2.6" ry="4.2" fill="#d8ecff" opacity="0.50"/>
<ellipse cx="361.3" cy="1086.3" rx="2.7" ry="4.2" fill="#d8ecff" opacity="0.50"/>
<ellipse cx="357.4" cy="1091.2" rx="2.9" ry="4.2" fill="#d8ecff" opacity="0.50"/>
<ellipse cx="358.2" cy="1095.9" rx="3.0" ry="4.2" fill="#d8ecff" opacity="0.50"/>
<ellipse cx="354.8" cy="1100.6" rx="3.2" ry="4.2" fill="#d8ecff" opacity="0.50"/>
<ellipse cx="355.0" cy="1105.2" rx="3.3" ry="4.2" fill="#d8ecff" opacity="0.50"/>
<ellipse cx="353.4" cy="1109.9" rx="3.5" ry="4.2" fill="#d8ecff" opacity="0.50"/>
<ellipse cx="347.1" cy="1114.5" rx="3.6" ry="4.2" fill="#d8ecff" opacity="0.50"/>
<ellipse cx="348.4" cy="1119.3" rx="3.8" ry="4.2" fill="#d8ecff" opacity="0.50"/>
<ellipse cx="350.4" cy="1124.1" rx="3.9" ry="4.2" fill="#d8ecff" opacity="0.50"/>
<ellipse cx="357.5" cy="1128.8" rx="4.1" ry="4.2" fill="#d8ecff" opacity="0.50"/>
<ellipse cx="357.8" cy="1133.6" rx="4.2" ry="4.2" fill="#d8ecff" opacity="0.50"/>
<ellipse cx="353.6" cy="1138.4" rx="4.4" ry="4.2" fill="#d8ecff" opacity="0.50"/>
<ellipse cx="360.3" cy="1143.1" rx="4.5" ry="4.2" fill="#d8ecff" opacity="0.50"/>
<ellipse cx="351.2" cy="1147.5" rx="4.6" ry="4.2" fill="#d8ecff" opacity="0.50"/>
<ellipse cx="353.7" cy="1151.8" rx="4.8" ry="4.2" fill="#d8ecff" opacity="0.50"/>
<ellipse cx="345.9" cy="1156.2" rx="4.9" ry="4.2" fill="#d8ecff" opacity="0.50"/>
<ellipse cx="342.0" cy="1160.6" rx="5.1" ry="4.2" fill="#d8ecff" opacity="0.50"/>
<ellipse cx="349.3" cy="1165.0" rx="5.2" ry="4.2" fill="#d8ecff" opacity="0.50"/>
<ellipse cx="339.5" cy="1169.5" rx="5.4" ry="4.2" fill="#d8ecff" opacity="0.50"/>
<ellipse cx="337.3" cy="1174.0" rx="5.5" ry="4.2" fill="#d8ecff" opacity="0.50"/>
<ellipse cx="344.6" cy="1178.6" rx="5.7" ry="4.2" fill="#d8ecff" opacity="0.50"/>
<ellipse cx="341.2" cy="1183.1" rx="5.8" ry="4.2" fill="#d8ecff" opacity="0.50"/>
<ellipse cx="332.8" cy="1188.0" rx="6.0" ry="4.2" fill="#d8ecff" opacity="0.50"/>
<ellipse cx="341.2" cy="1193.0" rx="6.1" ry="4.2" fill="#d8ecff" opacity="0.50"/>
<ellipse cx="335.1" cy="1198.0" rx="6.3" ry="4.2" fill="#d8ecff" opacity="0.50"/>
<ellipse cx="336.5" cy="1203.0" rx="6.4" ry="4.2" fill="#d8ecff" opacity="0.50"/>
<path d="M352,1108 Q349,1122 355,1138" stroke="#fff" stroke-width="4" stroke-linecap="round" fill="none" opacity="0.7"/>
<ellipse cx="336" cy="1186" rx="5" ry="9" fill="#e8f6ff" opacity="0.85"/>
<ellipse cx="456.4" cy="1038.0" rx="1.8" ry="4.2" fill="#d8ecff" opacity="0.50"/>
<ellipse cx="455.2" cy="1043.0" rx="1.8" ry="4.2" fill="#d8ecff" opacity="0.50"/>
<ellipse cx="456.8" cy="1048.1" rx="2.0" ry="4.2" fill="#d8ecff" opacity="0.50"/>
<ellipse cx="453.6" cy="1053.1" rx="2.2" ry="4.2" fill="#d8ecff" opacity="0.50"/>
<ellipse cx="455.4" cy="1058.2" rx="2.4" ry="4.2" fill="#d8ecff" opacity="0.50"/>
<ellipse cx="454.0" cy="1063.2" rx="2.6" ry="4.2" fill="#d8ecff" opacity="0.50"/>
<ellipse cx="451.6" cy="1068.2" rx="2.8" ry="4.2" fill="#d8ecff" opacity="0.50"/>
<ellipse cx="454.3" cy="1073.3" rx="3.0" ry="4.2" fill="#d8ecff" opacity="0.50"/>
<ellipse cx="452.2" cy="1078.2" rx="3.2" ry="4.2" fill="#d8ecff" opacity="0.50"/>
<ellipse cx="456.0" cy="1083.1" rx="3.4" ry="4.2" fill="#d8ecff" opacity="0.50"/>
<ellipse cx="454.2" cy="1088.1" rx="3.6" ry="4.2" fill="#d8ecff" opacity="0.50"/>
<ellipse cx="453.2" cy="1092.8" rx="3.8" ry="4.2" fill="#d8ecff" opacity="0.50"/>
<ellipse cx="453.7" cy="1097.3" rx="4.0" ry="4.2" fill="#d8ecff" opacity="0.50"/>
<ellipse cx="455.1" cy="1101.8" rx="4.2" ry="4.2" fill="#d8ecff" opacity="0.50"/>
<ellipse cx="446.2" cy="1106.3" rx="4.4" ry="4.2" fill="#d8ecff" opacity="0.50"/>
<ellipse cx="444.8" cy="1110.9" rx="4.6" ry="4.2" fill="#d8ecff" opacity="0.50"/>
<ellipse cx="448.2" cy="1115.8" rx="4.8" ry="4.2" fill="#d8ecff" opacity="0.50"/>
<ellipse cx="451.5" cy="1120.8" rx="5.0" ry="4.2" fill="#d8ecff" opacity="0.50"/>
<ellipse cx="447.2" cy="1125.9" rx="5.2" ry="4.2" fill="#d8ecff" opacity="0.50"/>
<ellipse cx="444.9" cy="1130.9" rx="5.4" ry="4.2" fill="#d8ecff" opacity="0.50"/>
<ellipse cx="452.6" cy="1135.8" rx="5.6" ry="4.2" fill="#d8ecff" opacity="0.50"/>
<ellipse cx="443.2" cy="1140.4" rx="5.8" ry="4.2" fill="#d8ecff" opacity="0.50"/>
<ellipse cx="455.7" cy="1145.0" rx="6.0" ry="4.2" fill="#d8ecff" opacity="0.50"/>
<ellipse cx="450.4" cy="1149.6" rx="6.2" ry="4.2" fill="#d8ecff" opacity="0.50"/>
<ellipse cx="450.4" cy="1154.2" rx="6.4" ry="4.2" fill="#d8ecff" opacity="0.50"/>
<ellipse cx="452.0" cy="1158.8" rx="6.6" ry="4.2" fill="#d8ecff" opacity="0.50"/>
<ellipse cx="453.4" cy="1163.3" rx="6.8" ry="4.2" fill="#d8ecff" opacity="0.50"/>
<ellipse cx="458.6" cy="1167.7" rx="6.9" ry="4.2" fill="#d8ecff" opacity="0.50"/>
<ellipse cx="446.4" cy="1172.1" rx="7.1" ry="4.2" fill="#d8ecff" opacity="0.50"/>
<ellipse cx="450.3" cy="1176.6" rx="7.3" ry="4.2" fill="#d8ecff" opacity="0.50"/>
<ellipse cx="448.8" cy="1181.0" rx="7.5" ry="4.2" fill="#d8ecff" opacity="0.50"/>
<ellipse cx="444.1" cy="1185.9" rx="7.7" ry="4.2" fill="#d8ecff" opacity="0.50"/>
<ellipse cx="447.4" cy="1191.0" rx="7.9" ry="4.2" fill="#d8ecff" opacity="0.50"/>
<ellipse cx="439.2" cy="1196.0" rx="8.1" ry="4.2" fill="#d8ecff" opacity="0.50"/>
<ellipse cx="439.2" cy="1201.1" rx="8.3" ry="4.2" fill="#d8ecff" opacity="0.50"/>
<ellipse cx="442.1" cy="1206.1" rx="8.5" ry="4.2" fill="#d8ecff" opacity="0.50"/>
<ellipse cx="451.4" cy="1211.2" rx="8.7" ry="4.2" fill="#d8ecff" opacity="0.50"/>
<ellipse cx="444.6" cy="1215.7" rx="8.9" ry="4.2" fill="#d8ecff" opacity="0.50"/>
<ellipse cx="439.9" cy="1220.2" rx="9.1" ry="4.2" fill="#d8ecff" opacity="0.50"/>
<ellipse cx="442.9" cy="1224.6" rx="9.3" ry="4.2" fill="#d8ecff" opacity="0.50"/>
<ellipse cx="437.8" cy="1229.1" rx="9.5" ry="4.2" fill="#d8ecff" opacity="0.50"/>
<ellipse cx="432.1" cy="1233.5" rx="9.7" ry="4.2" fill="#d8ecff" opacity="0.50"/>
<ellipse cx="440.4" cy="1238.0" rx="9.9" ry="4.2" fill="#d8ecff" opacity="0.50"/>
<ellipse cx="441.1" cy="1129.5" rx="4" ry="5.6" fill="#fff" opacity="0.92"/>
<ellipse cx="448.2" cy="1134.3" rx="3.5" ry="4.9" fill="#fff" opacity="0.92"/>
<ellipse cx="458.9" cy="1136.7" rx="3" ry="4.2" fill="#fff" opacity="0.92"/>
<ellipse cx="462.5" cy="1168.8" rx="4.5" ry="6.3" fill="#fff" opacity="0.92"/>
<ellipse cx="444.7" cy="1180.7" rx="3.5" ry="4.9" fill="#fff" opacity="0.92"/>
<ellipse cx="447" cy="1199.7" rx="4" ry="5.6" fill="#fff" opacity="0.92"/>
<ellipse cx="449.4" cy="1213.9" rx="4" ry="5.6" fill="#fff" opacity="0.92"/>
<ellipse cx="428" cy="1220" rx="3" ry="8" fill="#9ff0ff" opacity="0.9"/>
<ellipse cx="433" cy="1236" rx="3.5" ry="6" fill="#e8ffff" opacity="0.9"/>
<ellipse cx="553.9" cy="1038.0" rx="1.8" ry="4.2" fill="#d8ecff" opacity="0.47"/>
<ellipse cx="553.1" cy="1043.1" rx="1.8" ry="4.2" fill="#d8ecff" opacity="0.47"/>
<ellipse cx="551.7" cy="1048.2" rx="2.0" ry="4.2" fill="#d8ecff" opacity="0.47"/>
<ellipse cx="554.7" cy="1053.3" rx="2.2" ry="4.2" fill="#d8ecff" opacity="0.47"/>
<ellipse cx="549.9" cy="1058.4" rx="2.4" ry="4.2" fill="#d8ecff" opacity="0.47"/>
<ellipse cx="552.2" cy="1063.5" rx="2.6" ry="4.2" fill="#d8ecff" opacity="0.47"/>
<ellipse cx="554.3" cy="1068.7" rx="2.8" ry="4.2" fill="#d8ecff" opacity="0.47"/>
<ellipse cx="549.2" cy="1073.7" rx="3.1" ry="4.2" fill="#d8ecff" opacity="0.47"/>
<ellipse cx="553.5" cy="1078.7" rx="3.3" ry="4.2" fill="#d8ecff" opacity="0.47"/>
<ellipse cx="555.1" cy="1083.7" rx="3.5" ry="4.2" fill="#d8ecff" opacity="0.47"/>
<ellipse cx="551.6" cy="1088.7" rx="3.7" ry="4.2" fill="#d8ecff" opacity="0.47"/>
<ellipse cx="554.1" cy="1093.6" rx="3.9" ry="4.2" fill="#d8ecff" opacity="0.47"/>
<ellipse cx="554.6" cy="1098.1" rx="4.1" ry="4.2" fill="#d8ecff" opacity="0.47"/>
<ellipse cx="550.0" cy="1102.7" rx="4.3" ry="4.2" fill="#d8ecff" opacity="0.47"/>
<ellipse cx="550.3" cy="1107.2" rx="4.5" ry="4.2" fill="#d8ecff" opacity="0.47"/>
<ellipse cx="542.1" cy="1111.7" rx="4.7" ry="4.2" fill="#d8ecff" opacity="0.47"/>
<ellipse cx="541.4" cy="1116.6" rx="4.9" ry="4.2" fill="#d8ecff" opacity="0.47"/>
<ellipse cx="539.4" cy="1121.7" rx="5.1" ry="4.2" fill="#d8ecff" opacity="0.47"/>
<ellipse cx="543.4" cy="1126.8" rx="5.3" ry="4.2" fill="#d8ecff" opacity="0.47"/>
<ellipse cx="548.1" cy="1131.9" rx="5.6" ry="4.2" fill="#d8ecff" opacity="0.47"/>
<ellipse cx="543.6" cy="1137.0" rx="5.8" ry="4.2" fill="#d8ecff" opacity="0.47"/>
<ellipse cx="545.6" cy="1142.1" rx="6.0" ry="4.2" fill="#d8ecff" opacity="0.47"/>
<ellipse cx="541.5" cy="1147.1" rx="6.2" ry="4.2" fill="#d8ecff" opacity="0.47"/>
<ellipse cx="547.5" cy="1152.1" rx="6.4" ry="4.2" fill="#d8ecff" opacity="0.47"/>
<ellipse cx="539.4" cy="1157.1" rx="6.6" ry="4.2" fill="#d8ecff" opacity="0.47"/>
<ellipse cx="543.1" cy="1162.1" rx="6.8" ry="4.2" fill="#d8ecff" opacity="0.47"/>
<ellipse cx="549.6" cy="1167.2" rx="7.0" ry="4.2" fill="#d8ecff" opacity="0.47"/>
<ellipse cx="549.9" cy="1172.2" rx="7.2" ry="4.2" fill="#d8ecff" opacity="0.47"/>
<ellipse cx="544.5" cy="1177.3" rx="7.4" ry="4.2" fill="#d8ecff" opacity="0.47"/>
<ellipse cx="538.4" cy="1182.4" rx="7.6" ry="4.2" fill="#d8ecff" opacity="0.47"/>
<ellipse cx="540.8" cy="1187.5" rx="7.8" ry="4.2" fill="#d8ecff" opacity="0.47"/>
<ellipse cx="539.2" cy="1192.6" rx="8.0" ry="4.2" fill="#d8ecff" opacity="0.47"/>
<ellipse cx="540.0" cy="1197.7" rx="8.3" ry="4.2" fill="#d8ecff" opacity="0.47"/>
<ellipse cx="549.4" cy="1202.9" rx="8.5" ry="4.2" fill="#d8ecff" opacity="0.47"/>
<ellipse cx="537.6" cy="1208.0" rx="8.7" ry="4.2" fill="#d8ecff" opacity="0.47"/>
<ellipse cx="550.3" cy="1213.0" rx="8.9" ry="4.2" fill="#d8ecff" opacity="0.47"/>
<ellipse cx="549.1" cy="1218.0" rx="9.1" ry="4.2" fill="#d8ecff" opacity="0.47"/>
<ellipse cx="531.4" cy="1223.0" rx="9.3" ry="4.2" fill="#d8ecff" opacity="0.47"/>
<ellipse cx="536.8" cy="1228.0" rx="9.5" ry="4.2" fill="#d8ecff" opacity="0.47"/>
<ellipse cx="538.0" cy="1233.0" rx="9.7" ry="4.2" fill="#d8ecff" opacity="0.47"/>
<ellipse cx="526.7" cy="1238.0" rx="9.9" ry="4.2" fill="#d8ecff" opacity="0.47"/>
<ellipse cx="543.3" cy="1211" rx="5" ry="8" fill="#fff" opacity="0.95"/>
<ellipse cx="538" cy="1233" rx="3.5" ry="7" fill="#fff" opacity="0.9"/>
<ellipse cx="542" cy="1140" rx="4" ry="7" fill="#e8f4ff" opacity="0.7"/>
<ellipse cx="648.2" cy="1038.0" rx="1.8" ry="4.2" fill="#d8ecff" opacity="0.45"/>
<ellipse cx="649.7" cy="1043.1" rx="1.8" ry="4.2" fill="#d8ecff" opacity="0.45"/>
<ellipse cx="649.8" cy="1048.2" rx="2.0" ry="4.2" fill="#d8ecff" opacity="0.45"/>
<ellipse cx="650.7" cy="1053.3" rx="2.2" ry="4.2" fill="#d8ecff" opacity="0.45"/>
<ellipse cx="647.3" cy="1058.4" rx="2.4" ry="4.2" fill="#d8ecff" opacity="0.45"/>
<ellipse cx="647.5" cy="1063.5" rx="2.6" ry="4.2" fill="#d8ecff" opacity="0.45"/>
<ellipse cx="646.8" cy="1068.6" rx="2.8" ry="4.2" fill="#d8ecff" opacity="0.45"/>
<ellipse cx="648.0" cy="1073.6" rx="3.0" ry="4.2" fill="#d8ecff" opacity="0.45"/>
<ellipse cx="653.0" cy="1078.4" rx="3.2" ry="4.2" fill="#d8ecff" opacity="0.45"/>
<ellipse cx="650.1" cy="1083.3" rx="3.4" ry="4.2" fill="#d8ecff" opacity="0.45"/>
<ellipse cx="654.7" cy="1088.2" rx="3.6" ry="4.2" fill="#d8ecff" opacity="0.45"/>
<ellipse cx="651.2" cy="1092.8" rx="3.8" ry="4.2" fill="#d8ecff" opacity="0.45"/>
<ellipse cx="649.5" cy="1097.4" rx="4.0" ry="4.2" fill="#d8ecff" opacity="0.45"/>
<ellipse cx="648.4" cy="1102.0" rx="4.2" ry="4.2" fill="#d8ecff" opacity="0.45"/>
<ellipse cx="650.0" cy="1106.5" rx="4.4" ry="4.2" fill="#d8ecff" opacity="0.45"/>
<ellipse cx="645.6" cy="1111.1" rx="4.6" ry="4.2" fill="#d8ecff" opacity="0.45"/>
<ellipse cx="637.0" cy="1115.7" rx="4.8" ry="4.2" fill="#d8ecff" opacity="0.45"/>
<ellipse cx="639.2" cy="1120.7" rx="5.0" ry="4.2" fill="#d8ecff" opacity="0.45"/>
<ellipse cx="637.2" cy="1125.8" rx="5.3" ry="4.2" fill="#d8ecff" opacity="0.45"/>
<ellipse cx="645.3" cy="1130.9" rx="5.5" ry="4.2" fill="#d8ecff" opacity="0.45"/>
<ellipse cx="644.3" cy="1136.0" rx="5.7" ry="4.2" fill="#d8ecff" opacity="0.45"/>
<ellipse cx="644.0" cy="1141.0" rx="5.9" ry="4.2" fill="#d8ecff" opacity="0.45"/>
<ellipse cx="645.5" cy="1146.0" rx="6.1" ry="4.2" fill="#d8ecff" opacity="0.45"/>
<ellipse cx="645.9" cy="1150.9" rx="6.3" ry="4.2" fill="#d8ecff" opacity="0.45"/>
<ellipse cx="650.4" cy="1155.8" rx="6.5" ry="4.2" fill="#d8ecff" opacity="0.45"/>
<ellipse cx="649.7" cy="1160.7" rx="6.7" ry="4.2" fill="#d8ecff" opacity="0.45"/>
<ellipse cx="643.2" cy="1165.6" rx="6.9" ry="4.2" fill="#d8ecff" opacity="0.45"/>
<ellipse cx="654.2" cy="1170.3" rx="7.1" ry="4.2" fill="#d8ecff" opacity="0.45"/>
<ellipse cx="650.5" cy="1175.0" rx="7.3" ry="4.2" fill="#d8ecff" opacity="0.45"/>
<ellipse cx="655.5" cy="1179.7" rx="7.5" ry="4.2" fill="#d8ecff" opacity="0.45"/>
<ellipse cx="650.4" cy="1184.4" rx="7.7" ry="4.2" fill="#d8ecff" opacity="0.45"/>
<ellipse cx="646.2" cy="1189.1" rx="7.9" ry="4.2" fill="#d8ecff" opacity="0.45"/>
<ellipse cx="643.0" cy="1193.8" rx="8.1" ry="4.2" fill="#d8ecff" opacity="0.45"/>
<ellipse cx="642.2" cy="1198.5" rx="8.3" ry="4.2" fill="#d8ecff" opacity="0.45"/>
<ellipse cx="638.1" cy="1203.3" rx="8.5" ry="4.2" fill="#d8ecff" opacity="0.45"/>
<ellipse cx="632.6" cy="1208.1" rx="8.7" ry="4.2" fill="#d8ecff" opacity="0.45"/>
<ellipse cx="644.4" cy="1212.9" rx="8.9" ry="4.2" fill="#d8ecff" opacity="0.45"/>
<ellipse cx="642.4" cy="1217.7" rx="9.1" ry="4.2" fill="#d8ecff" opacity="0.45"/>
<ellipse cx="646.1" cy="1222.7" rx="9.3" ry="4.2" fill="#d8ecff" opacity="0.45"/>
<ellipse cx="640.4" cy="1227.8" rx="9.5" ry="4.2" fill="#d8ecff" opacity="0.45"/>
<ellipse cx="637.9" cy="1232.9" rx="9.7" ry="4.2" fill="#d8ecff" opacity="0.45"/>
<ellipse cx="642.4" cy="1238.0" rx="9.9" ry="4.2" fill="#d8ecff" opacity="0.45"/>
<circle cx="621.8" cy="1149.3" r="4" fill="#fff" opacity="0.95"/>
<circle cx="652.7" cy="1177" r="3" fill="#fff" opacity="0.9"/>
<ellipse cx="746.6" cy="1038.0" rx="1.8" ry="4.2" fill="#d8ecff" opacity="0.42"/>
<ellipse cx="747.6" cy="1043.0" rx="1.8" ry="4.2" fill="#d8ecff" opacity="0.42"/>
<ellipse cx="748.3" cy="1048.0" rx="2.0" ry="4.2" fill="#d8ecff" opacity="0.42"/>
<ellipse cx="745.2" cy="1053.0" rx="2.2" ry="4.2" fill="#d8ecff" opacity="0.42"/>
<ellipse cx="747.5" cy="1058.0" rx="2.4" ry="4.2" fill="#d8ecff" opacity="0.42"/>
<ellipse cx="747.1" cy="1063.0" rx="2.6" ry="4.2" fill="#d8ecff" opacity="0.42"/>
<ellipse cx="746.9" cy="1068.0" rx="2.8" ry="4.2" fill="#d8ecff" opacity="0.42"/>
<ellipse cx="743.8" cy="1072.9" rx="3.0" ry="4.2" fill="#d8ecff" opacity="0.42"/>
<ellipse cx="744.6" cy="1077.7" rx="3.2" ry="4.2" fill="#d8ecff" opacity="0.42"/>
<ellipse cx="748.7" cy="1082.4" rx="3.4" ry="4.2" fill="#d8ecff" opacity="0.42"/>
<ellipse cx="753.0" cy="1087.2" rx="3.6" ry="4.2" fill="#d8ecff" opacity="0.42"/>
<ellipse cx="748.9" cy="1091.8" rx="3.8" ry="4.2" fill="#d8ecff" opacity="0.42"/>
<ellipse cx="748.5" cy="1096.1" rx="4.0" ry="4.2" fill="#d8ecff" opacity="0.42"/>
<ellipse cx="744.3" cy="1100.4" rx="4.2" ry="4.2" fill="#d8ecff" opacity="0.42"/>
<ellipse cx="746.9" cy="1104.8" rx="4.4" ry="4.2" fill="#d8ecff" opacity="0.42"/>
<ellipse cx="745.5" cy="1109.1" rx="4.6" ry="4.2" fill="#d8ecff" opacity="0.42"/>
<ellipse cx="737.4" cy="1113.4" rx="4.8" ry="4.2" fill="#d8ecff" opacity="0.42"/>
<ellipse cx="742.7" cy="1118.0" rx="5.0" ry="4.2" fill="#d8ecff" opacity="0.42"/>
<ellipse cx="732.5" cy="1123.0" rx="5.3" ry="4.2" fill="#d8ecff" opacity="0.42"/>
<ellipse cx="741.7" cy="1128.0" rx="5.5" ry="4.2" fill="#d8ecff" opacity="0.42"/>
<ellipse cx="743.0" cy="1133.0" rx="5.7" ry="4.2" fill="#d8ecff" opacity="0.42"/>
<ellipse cx="734.2" cy="1138.0" rx="5.9" ry="4.2" fill="#d8ecff" opacity="0.42"/>
<ellipse cx="741.8" cy="1142.9" rx="6.1" ry="4.2" fill="#d8ecff" opacity="0.42"/>
<ellipse cx="740.5" cy="1147.9" rx="6.3" ry="4.2" fill="#d8ecff" opacity="0.42"/>
<ellipse cx="746.8" cy="1152.9" rx="6.5" ry="4.2" fill="#d8ecff" opacity="0.42"/>
<ellipse cx="736.7" cy="1157.8" rx="6.7" ry="4.2" fill="#d8ecff" opacity="0.42"/>
<ellipse cx="742.2" cy="1162.8" rx="6.9" ry="4.2" fill="#d8ecff" opacity="0.42"/>
<ellipse cx="748.1" cy="1167.8" rx="7.1" ry="4.2" fill="#d8ecff" opacity="0.42"/>
<ellipse cx="744.8" cy="1172.8" rx="7.3" ry="4.2" fill="#d8ecff" opacity="0.42"/>
<ellipse cx="739.9" cy="1177.7" rx="7.5" ry="4.2" fill="#d8ecff" opacity="0.42"/>
<ellipse cx="736.5" cy="1182.7" rx="7.7" ry="4.2" fill="#d8ecff" opacity="0.42"/>
<ellipse cx="751.6" cy="1187.7" rx="7.9" ry="4.2" fill="#d8ecff" opacity="0.42"/>
<ellipse cx="741.9" cy="1192.4" rx="8.1" ry="4.2" fill="#d8ecff" opacity="0.42"/>
<ellipse cx="749.7" cy="1197.1" rx="8.3" ry="4.2" fill="#d8ecff" opacity="0.42"/>
<ellipse cx="732.3" cy="1201.8" rx="8.5" ry="4.2" fill="#d8ecff" opacity="0.42"/>
<ellipse cx="743.2" cy="1206.5" rx="8.7" ry="4.2" fill="#d8ecff" opacity="0.42"/>
<ellipse cx="741.9" cy="1211.3" rx="8.9" ry="4.2" fill="#d8ecff" opacity="0.42"/>
<ellipse cx="743.4" cy="1216.2" rx="9.1" ry="4.2" fill="#d8ecff" opacity="0.42"/>
<ellipse cx="724.5" cy="1221.2" rx="9.3" ry="4.2" fill="#d8ecff" opacity="0.42"/>
<ellipse cx="730.9" cy="1226.1" rx="9.5" ry="4.2" fill="#d8ecff" opacity="0.42"/>
<ellipse cx="723.2" cy="1231.1" rx="9.7" ry="4.2" fill="#d8ecff" opacity="0.42"/>
<ellipse cx="737.5" cy="1236.0" rx="9.9" ry="4.2" fill="#d8ecff" opacity="0.42"/>
<ellipse cx="732" cy="1222" rx="3.5" ry="5" fill="#fff" opacity="0.85"/></g>
<g filter="url(#blurK)"><ellipse cx="153.1" cy="1058.7" rx="2.5" ry="3.2" fill="#fff" opacity="0.88"/>
<ellipse cx="149.1" cy="1047.1" rx="1.6" ry="2.1" fill="#fff" opacity="0.95"/>
<ellipse cx="151.5" cy="1054.9" rx="4.0" ry="5.2" fill="#fff" opacity="0.84"/>
<ellipse cx="159.0" cy="1041.3" rx="3.1" ry="4.1" fill="#fff" opacity="0.75"/>
<ellipse cx="139.2" cy="1039.4" rx="2.9" ry="3.7" fill="#fff" opacity="0.92"/>
<ellipse cx="150.1" cy="1046.6" rx="3.4" ry="4.4" fill="#fff" opacity="0.88"/>
<ellipse cx="151.2" cy="1050.7" rx="3.7" ry="4.8" fill="#fff" opacity="0.84"/>
<ellipse cx="148.2" cy="1036.3" rx="3.3" ry="4.3" fill="#fff" opacity="0.98"/>
<ellipse cx="137.5" cy="1056.5" rx="2.7" ry="3.5" fill="#fff" opacity="0.98"/>
<ellipse cx="155.8" cy="1046.6" rx="1.9" ry="2.5" fill="#fff" opacity="0.77"/>
<ellipse cx="164.5" cy="1047.2" rx="3.1" ry="4.0" fill="#fff" opacity="0.79"/>
<ellipse cx="140.2" cy="1048.6" rx="2.4" ry="3.2" fill="#fff" opacity="0.88"/>
<ellipse cx="134.9" cy="1042.3" rx="3.2" ry="4.2" fill="#fff" opacity="0.98"/>
<ellipse cx="164.9" cy="1038.1" rx="3.2" ry="4.2" fill="#fff" opacity="0.75"/>
<ellipse cx="165.2" cy="1038.5" rx="3.8" ry="4.9" fill="#fff" opacity="0.87"/>
<ellipse cx="150.1" cy="1043.6" rx="3.6" ry="4.7" fill="#fff" opacity="0.87"/>
<ellipse cx="151.1" cy="1051.6" rx="3.6" ry="4.7" fill="#fff" opacity="1.00"/>
<ellipse cx="167.6" cy="1055.5" rx="2.6" ry="3.4" fill="#fff" opacity="0.75"/>
<ellipse cx="147.1" cy="1060.5" rx="3.7" ry="4.8" fill="#fff" opacity="0.71"/>
<ellipse cx="149.5" cy="1047.6" rx="3.3" ry="4.3" fill="#fff" opacity="0.80"/>
<ellipse cx="167.2" cy="1039.6" rx="2.8" ry="3.7" fill="#fff" opacity="1.00"/>
<ellipse cx="150.3" cy="1051.8" rx="3.0" ry="4.0" fill="#fff" opacity="0.71"/>
<ellipse cx="156.0" cy="1056.7" rx="3.1" ry="4.0" fill="#fff" opacity="0.75"/>
<ellipse cx="170.6" cy="1052.4" rx="2.4" ry="3.1" fill="#fff" opacity="0.99"/>
<ellipse cx="161.3" cy="1044.3" rx="2.7" ry="3.5" fill="#fff" opacity="0.86"/>
<ellipse cx="142.5" cy="1040.9" rx="2.9" ry="3.8" fill="#fff" opacity="0.89"/>
<ellipse cx="165.0" cy="1045.6" rx="2.6" ry="3.4" fill="#fff" opacity="0.92"/>
<ellipse cx="152.8" cy="1055.8" rx="3.9" ry="5.1" fill="#fff" opacity="0.86"/>
<ellipse cx="150.6" cy="1048.7" rx="2.6" ry="3.4" fill="#fff" opacity="0.87"/>
<ellipse cx="167.6" cy="1050.3" rx="3.1" ry="4.1" fill="#fff" opacity="0.72"/>
<ellipse cx="142.7" cy="1042.6" rx="3.2" ry="4.2" fill="#fff" opacity="0.81"/>
<ellipse cx="147.3" cy="1037.8" rx="1.7" ry="2.1" fill="#fff" opacity="0.72"/>
<ellipse cx="142.8" cy="1036.8" rx="2.2" ry="2.9" fill="#fff" opacity="0.84"/>
<ellipse cx="143.1" cy="1045.1" rx="2.5" ry="3.2" fill="#fff" opacity="0.79"/>
<ellipse cx="141.5" cy="1056.5" rx="2.3" ry="3.0" fill="#fff" opacity="0.81"/>
<ellipse cx="152.3" cy="1047.4" rx="3.0" ry="3.9" fill="#fff" opacity="0.92"/>
<ellipse cx="148.9" cy="1054.3" rx="3.5" ry="4.6" fill="#fff" opacity="0.77"/>
<ellipse cx="156.9" cy="1056.8" rx="3.3" ry="4.3" fill="#fff" opacity="0.73"/>
<ellipse cx="148.0" cy="1104.3" rx="3.6" ry="4.7" fill="#fff" opacity="0.83"/>
<ellipse cx="157.7" cy="1089.6" rx="2.4" ry="3.1" fill="#fff" opacity="0.90"/>
<ellipse cx="163.2" cy="1086.8" rx="2.1" ry="2.8" fill="#fff" opacity="0.74"/>
<ellipse cx="145.0" cy="1093.6" rx="3.5" ry="4.6" fill="#fff" opacity="0.95"/>
<ellipse cx="157.1" cy="1103.5" rx="3.5" ry="4.6" fill="#fff" opacity="0.89"/>
<ellipse cx="157.0" cy="1085.1" rx="1.9" ry="2.5" fill="#fff" opacity="0.79"/>
<ellipse cx="155.7" cy="1086.2" rx="2.4" ry="3.2" fill="#fff" opacity="0.83"/>
<ellipse cx="141.7" cy="1100.7" rx="3.8" ry="5.0" fill="#fff" opacity="0.75"/>
<ellipse cx="174.2" cy="1095.6" rx="3.7" ry="4.8" fill="#fff" opacity="1.00"/>
<ellipse cx="133.5" cy="1102.8" rx="3.8" ry="5.0" fill="#fff" opacity="0.77"/>
<ellipse cx="152.4" cy="1077.0" rx="3.2" ry="4.1" fill="#fff" opacity="0.86"/>
<ellipse cx="150.2" cy="1105.2" rx="2.1" ry="2.8" fill="#fff" opacity="0.72"/>
<ellipse cx="144.2" cy="1090.0" rx="3.5" ry="4.6" fill="#fff" opacity="0.71"/>
<ellipse cx="167.5" cy="1085.9" rx="3.8" ry="5.0" fill="#fff" opacity="0.97"/>
<ellipse cx="165.8" cy="1086.5" rx="1.6" ry="2.1" fill="#fff" opacity="0.92"/>
<ellipse cx="158.0" cy="1103.6" rx="3.2" ry="4.1" fill="#fff" opacity="0.86"/>
<ellipse cx="134.9" cy="1104.9" rx="3.1" ry="4.0" fill="#fff" opacity="0.80"/>
<ellipse cx="152.7" cy="1113.3" rx="2.7" ry="3.6" fill="#fff" opacity="0.93"/>
<ellipse cx="148.0" cy="1101.1" rx="2.9" ry="3.7" fill="#fff" opacity="0.95"/>
<ellipse cx="162.1" cy="1110.3" rx="3.8" ry="5.0" fill="#fff" opacity="0.94"/>
<ellipse cx="153.5" cy="1094.0" rx="3.1" ry="4.0" fill="#fff" opacity="0.96"/>
<ellipse cx="162.6" cy="1097.8" rx="2.2" ry="2.9" fill="#fff" opacity="0.86"/>
<ellipse cx="140.6" cy="1100.9" rx="3.5" ry="4.5" fill="#fff" opacity="0.70"/>
<ellipse cx="159.0" cy="1097.0" rx="1.9" ry="2.5" fill="#fff" opacity="0.72"/>
<ellipse cx="172.8" cy="1092.1" rx="1.8" ry="2.3" fill="#fff" opacity="0.85"/>
<ellipse cx="148.6" cy="1104.1" rx="2.4" ry="3.2" fill="#fff" opacity="0.89"/>
<ellipse cx="142.8" cy="1089.4" rx="2.1" ry="2.7" fill="#fff" opacity="0.80"/>
<ellipse cx="164.0" cy="1104.9" rx="3.3" ry="4.3" fill="#fff" opacity="0.81"/>
<ellipse cx="159.9" cy="1098.4" rx="2.5" ry="3.2" fill="#fff" opacity="0.88"/>
<ellipse cx="155.5" cy="1084.0" rx="3.5" ry="4.6" fill="#fff" opacity="0.89"/>
<ellipse cx="141.9" cy="1099.6" rx="2.8" ry="3.6" fill="#fff" opacity="0.91"/>
<ellipse cx="137.5" cy="1102.7" rx="2.7" ry="3.5" fill="#fff" opacity="0.77"/>
<ellipse cx="135.8" cy="1091.4" rx="1.8" ry="2.3" fill="#fff" opacity="0.83"/>
<ellipse cx="134.8" cy="1103.3" rx="3.8" ry="5.0" fill="#fff" opacity="0.81"/>
<ellipse cx="168.3" cy="1084.6" rx="2.2" ry="2.9" fill="#fff" opacity="0.84"/>
<ellipse cx="166.9" cy="1107.3" rx="3.2" ry="4.1" fill="#fff" opacity="0.97"/>
<ellipse cx="157.5" cy="1079.9" rx="3.4" ry="4.4" fill="#fff" opacity="0.87"/>
<ellipse cx="165.8" cy="1103.8" rx="1.6" ry="2.1" fill="#fff" opacity="0.74"/>
<ellipse cx="225.2" cy="1138.4" rx="1.1" ry="1.4" fill="#fff" opacity="0.60"/>
<ellipse cx="255.2" cy="1110.4" rx="2.2" ry="2.5" fill="#fff" opacity="0.91"/>
<ellipse cx="240.3" cy="1135.0" rx="1.9" ry="2.4" fill="#fff" opacity="0.94"/>
<ellipse cx="212.4" cy="1148.5" rx="1.0" ry="1.6" fill="#fff" opacity="0.73"/>
<ellipse cx="232.8" cy="1113.2" rx="1.5" ry="1.9" fill="#fff" opacity="0.90"/>
<ellipse cx="240.9" cy="1142.3" rx="1.4" ry="2.5" fill="#fff" opacity="0.84"/>
<ellipse cx="260.0" cy="1105.1" rx="1.8" ry="3.1" fill="#fff" opacity="0.66"/>
<ellipse cx="248.8" cy="1145.6" rx="1.2" ry="1.9" fill="#fff" opacity="0.75"/>
<ellipse cx="249.0" cy="1108.3" rx="1.2" ry="1.7" fill="#fff" opacity="0.92"/>
<ellipse cx="239.7" cy="1121.1" rx="0.9" ry="1.4" fill="#fff" opacity="0.91"/>
<ellipse cx="259.8" cy="1073.0" rx="1.7" ry="2.0" fill="#fff" opacity="0.90"/>
<ellipse cx="257.2" cy="1063.7" rx="1.5" ry="1.8" fill="#fff" opacity="0.63"/>
<ellipse cx="224.0" cy="1139.5" rx="0.8" ry="1.0" fill="#fff" opacity="0.82"/>
<ellipse cx="262.1" cy="1054.6" rx="2.1" ry="3.4" fill="#fff" opacity="0.56"/>
<ellipse cx="263.9" cy="1083.7" rx="1.1" ry="1.4" fill="#fff" opacity="0.57"/>
<ellipse cx="230.1" cy="1146.4" rx="1.0" ry="1.3" fill="#fff" opacity="0.80"/>
<ellipse cx="252.4" cy="1128.4" rx="0.8" ry="1.4" fill="#fff" opacity="0.85"/>
<ellipse cx="245.9" cy="1144.2" rx="1.9" ry="2.9" fill="#fff" opacity="0.74"/>
<ellipse cx="259.1" cy="1078.5" rx="0.9" ry="1.6" fill="#fff" opacity="0.60"/>
<ellipse cx="245.6" cy="1116.0" rx="1.4" ry="1.5" fill="#fff" opacity="0.93"/>
<ellipse cx="258.7" cy="1083.3" rx="0.8" ry="0.9" fill="#fff" opacity="0.57"/>
<ellipse cx="256.2" cy="1045.0" rx="1.0" ry="1.5" fill="#fff" opacity="0.75"/>
<ellipse cx="270.5" cy="1148.3" rx="1.1" ry="1.4" fill="#fff" opacity="0.79"/>
<ellipse cx="237.4" cy="1120.5" rx="1.9" ry="2.3" fill="#fff" opacity="0.72"/>
<ellipse cx="259.4" cy="1108.5" rx="1.4" ry="2.2" fill="#fff" opacity="0.65"/>
<ellipse cx="258.8" cy="1058.8" rx="1.1" ry="1.2" fill="#fff" opacity="0.76"/>
<ellipse cx="254.2" cy="1107.4" rx="1.1" ry="1.9" fill="#fff" opacity="0.84"/>
<ellipse cx="274.5" cy="1102.5" rx="1.5" ry="1.6" fill="#fff" opacity="0.72"/>
<ellipse cx="258.5" cy="1110.0" rx="1.9" ry="2.7" fill="#fff" opacity="0.92"/>
<ellipse cx="256.2" cy="1121.0" rx="1.2" ry="1.6" fill="#fff" opacity="0.56"/>
<ellipse cx="255.3" cy="1125.2" rx="2.0" ry="2.0" fill="#fff" opacity="0.73"/>
<ellipse cx="267.2" cy="1098.0" rx="1.5" ry="2.2" fill="#fff" opacity="0.58"/>
<ellipse cx="255.4" cy="1087.6" rx="0.9" ry="1.0" fill="#fff" opacity="0.78"/>
<ellipse cx="279.8" cy="1099.3" rx="1.4" ry="1.9" fill="#fff" opacity="0.60"/>
<ellipse cx="266.6" cy="1066.9" rx="1.7" ry="2.6" fill="#fff" opacity="0.56"/>
<ellipse cx="259.4" cy="1123.4" rx="1.9" ry="2.6" fill="#fff" opacity="0.69"/>
<ellipse cx="262.3" cy="1104.1" rx="1.5" ry="2.7" fill="#fff" opacity="0.87"/>
<ellipse cx="229.6" cy="1143.3" rx="2.0" ry="2.3" fill="#fff" opacity="0.75"/>
<ellipse cx="255.9" cy="1083.5" rx="2.1" ry="3.5" fill="#fff" opacity="0.59"/>
<ellipse cx="271.5" cy="1092.0" rx="2.2" ry="2.9" fill="#fff" opacity="0.58"/>
<circle cx="258.7" cy="1072" r="2.6" fill="#fff"/>
<ellipse cx="366.6" cy="1096.1" rx="2.2" ry="2.7" fill="#fff" opacity="0.69"/>
<ellipse cx="356.2" cy="1083.4" rx="1.0" ry="1.2" fill="#fff" opacity="0.79"/>
<ellipse cx="361.4" cy="1042.1" rx="1.2" ry="1.7" fill="#fff" opacity="0.68"/>
<ellipse cx="350.7" cy="1135.6" rx="1.8" ry="3.2" fill="#fff" opacity="0.56"/>
<ellipse cx="342.6" cy="1171.5" rx="1.9" ry="2.8" fill="#fff" opacity="0.55"/>
<ellipse cx="358.5" cy="1059.9" rx="1.1" ry="1.2" fill="#fff" opacity="0.85"/>
<ellipse cx="344.0" cy="1194.4" rx="1.3" ry="2.1" fill="#fff" opacity="0.59"/>
<ellipse cx="338.6" cy="1174.2" rx="1.9" ry="2.0" fill="#fff" opacity="0.93"/>
<ellipse cx="353.7" cy="1068.3" rx="2.1" ry="3.6" fill="#fff" opacity="0.77"/>
<ellipse cx="359.0" cy="1110.3" rx="1.2" ry="1.3" fill="#fff" opacity="0.61"/>
<ellipse cx="350.4" cy="1167.7" rx="0.9" ry="1.2" fill="#fff" opacity="0.71"/>
<ellipse cx="356.9" cy="1101.5" rx="1.6" ry="2.2" fill="#fff" opacity="0.72"/>
<ellipse cx="359.2" cy="1061.9" rx="1.5" ry="1.6" fill="#fff" opacity="0.84"/>
<ellipse cx="333.3" cy="1198.5" rx="1.7" ry="1.8" fill="#fff" opacity="0.72"/>
<ellipse cx="360.2" cy="1085.5" rx="1.4" ry="2.4" fill="#fff" opacity="0.94"/>
<ellipse cx="350.5" cy="1135.6" rx="1.5" ry="2.1" fill="#fff" opacity="0.67"/>
<ellipse cx="357.1" cy="1129.4" rx="2.2" ry="3.3" fill="#fff" opacity="0.75"/>
<ellipse cx="355.1" cy="1115.0" rx="0.9" ry="1.5" fill="#fff" opacity="0.90"/>
<ellipse cx="353.5" cy="1121.0" rx="1.8" ry="2.8" fill="#fff" opacity="0.70"/>
<ellipse cx="328.9" cy="1166.6" rx="1.2" ry="1.9" fill="#fff" opacity="0.83"/>
<ellipse cx="361.2" cy="1106.3" rx="1.6" ry="2.3" fill="#fff" opacity="0.65"/>
<ellipse cx="342.0" cy="1164.6" rx="1.4" ry="2.2" fill="#fff" opacity="0.87"/>
<ellipse cx="343.8" cy="1117.0" rx="2.0" ry="3.3" fill="#fff" opacity="0.90"/>
<ellipse cx="333.6" cy="1167.5" rx="2.2" ry="3.1" fill="#fff" opacity="0.76"/>
<ellipse cx="364.6" cy="1087.2" rx="1.5" ry="2.3" fill="#fff" opacity="0.84"/>
<ellipse cx="349.5" cy="1087.7" rx="1.9" ry="2.9" fill="#fff" opacity="0.72"/>
<ellipse cx="351.5" cy="1154.0" rx="1.8" ry="2.0" fill="#fff" opacity="0.73"/>
<ellipse cx="335.5" cy="1161.2" rx="1.1" ry="1.7" fill="#fff" opacity="0.57"/>
<ellipse cx="356.7" cy="1135.8" rx="1.0" ry="1.1" fill="#fff" opacity="0.63"/>
<ellipse cx="360.7" cy="1053.0" rx="1.5" ry="2.2" fill="#fff" opacity="0.79"/>
<ellipse cx="357.1" cy="1098.3" rx="1.4" ry="1.8" fill="#fff" opacity="0.60"/>
<ellipse cx="336.7" cy="1179.2" rx="1.3" ry="2.0" fill="#fff" opacity="0.59"/>
<ellipse cx="349.6" cy="1148.9" rx="2.1" ry="2.9" fill="#fff" opacity="0.88"/>
<ellipse cx="358.0" cy="1157.0" rx="1.3" ry="1.9" fill="#fff" opacity="0.78"/>
<ellipse cx="349.0" cy="1200.1" rx="1.3" ry="1.3" fill="#fff" opacity="0.59"/>
<ellipse cx="351.5" cy="1147.5" rx="1.7" ry="2.5" fill="#fff" opacity="0.91"/>
<ellipse cx="347.4" cy="1125.2" rx="1.2" ry="1.6" fill="#fff" opacity="0.93"/>
<ellipse cx="338.2" cy="1190.9" rx="1.6" ry="2.9" fill="#fff" opacity="0.75"/>
<ellipse cx="345.2" cy="1127.2" rx="1.5" ry="2.1" fill="#fff" opacity="0.60"/>
<ellipse cx="372.0" cy="1155.4" rx="1.4" ry="2.3" fill="#fff" opacity="0.88"/>
<ellipse cx="359.3" cy="1047.0" rx="2.1" ry="2.5" fill="#fff" opacity="0.66"/>
<ellipse cx="357.6" cy="1082.5" rx="2.2" ry="3.2" fill="#fff" opacity="0.74"/>
<ellipse cx="336.8" cy="1161.0" rx="1.0" ry="1.2" fill="#fff" opacity="0.76"/>
<ellipse cx="344.1" cy="1116.2" rx="1.2" ry="1.7" fill="#fff" opacity="0.69"/>
<ellipse cx="339.7" cy="1171.4" rx="1.2" ry="2.0" fill="#fff" opacity="0.91"/>
<ellipse cx="354.0" cy="1148.7" rx="0.8" ry="1.1" fill="#fff" opacity="0.78"/>
<ellipse cx="336.9" cy="1166.5" rx="2.1" ry="2.7" fill="#fff" opacity="0.89"/>
<ellipse cx="355.7" cy="1094.2" rx="1.2" ry="1.3" fill="#fff" opacity="0.88"/>
<ellipse cx="338.0" cy="1168.0" rx="1.9" ry="2.1" fill="#fff" opacity="0.74"/>
<ellipse cx="357.6" cy="1146.5" rx="1.5" ry="1.7" fill="#fff" opacity="0.78"/>
<ellipse cx="344.5" cy="1181.4" rx="1.9" ry="3.0" fill="#fff" opacity="0.56"/>
<ellipse cx="345.9" cy="1171.9" rx="2.2" ry="3.4" fill="#fff" opacity="0.57"/>
<ellipse cx="339.1" cy="1184.5" rx="2.1" ry="2.4" fill="#fff" opacity="0.67"/>
<ellipse cx="349.9" cy="1193.5" rx="1.0" ry="1.3" fill="#fff" opacity="0.61"/>
<ellipse cx="353.6" cy="1154.1" rx="1.3" ry="1.4" fill="#fff" opacity="0.78"/>
<circle cx="355.7" cy="1072" r="2.6" fill="#fff"/>
<ellipse cx="447.5" cy="1196.7" rx="1.5" ry="2.4" fill="#fff" opacity="0.67"/>
<ellipse cx="457.4" cy="1234.9" rx="1.0" ry="1.5" fill="#fff" opacity="0.61"/>
<ellipse cx="474.0" cy="1161.3" rx="1.9" ry="3.2" fill="#fff" opacity="0.68"/>
<ellipse cx="451.8" cy="1194.3" rx="1.6" ry="2.2" fill="#fff" opacity="0.89"/>
<ellipse cx="413.9" cy="1231.9" rx="0.9" ry="1.3" fill="#fff" opacity="0.95"/>
<ellipse cx="450.6" cy="1213.3" rx="1.2" ry="1.8" fill="#fff" opacity="0.56"/>
<ellipse cx="459.0" cy="1157.9" rx="0.9" ry="1.0" fill="#fff" opacity="0.65"/>
<ellipse cx="455.0" cy="1141.4" rx="2.0" ry="2.7" fill="#fff" opacity="0.77"/>
<ellipse cx="455.7" cy="1221.9" rx="1.2" ry="1.5" fill="#fff" opacity="0.90"/>
<ellipse cx="406.9" cy="1230.5" rx="1.0" ry="1.2" fill="#fff" opacity="0.64"/>
<ellipse cx="450.4" cy="1159.7" rx="0.8" ry="1.0" fill="#fff" opacity="0.78"/>
<ellipse cx="430.5" cy="1231.9" rx="1.8" ry="2.6" fill="#fff" opacity="0.82"/>
<ellipse cx="461.0" cy="1067.2" rx="2.0" ry="2.7" fill="#fff" opacity="0.71"/>
<ellipse cx="450.2" cy="1078.5" rx="1.7" ry="1.8" fill="#fff" opacity="0.63"/>
<ellipse cx="453.7" cy="1094.1" rx="0.8" ry="0.9" fill="#fff" opacity="0.70"/>
<ellipse cx="456.6" cy="1054.9" rx="2.0" ry="2.3" fill="#fff" opacity="0.65"/>
<ellipse cx="443.7" cy="1138.9" rx="2.0" ry="2.7" fill="#fff" opacity="0.74"/>
<ellipse cx="456.9" cy="1074.9" rx="0.9" ry="1.1" fill="#fff" opacity="0.88"/>
<ellipse cx="471.4" cy="1093.9" rx="1.5" ry="2.2" fill="#fff" opacity="0.56"/>
<ellipse cx="458.4" cy="1169.3" rx="2.2" ry="3.4" fill="#fff" opacity="0.65"/>
<ellipse cx="457.0" cy="1141.2" rx="1.5" ry="2.0" fill="#fff" opacity="0.64"/>
<ellipse cx="470.2" cy="1214.7" rx="2.2" ry="3.6" fill="#fff" opacity="0.88"/>
<ellipse cx="449.8" cy="1198.3" rx="1.3" ry="1.3" fill="#fff" opacity="0.66"/>
<ellipse cx="456.7" cy="1120.1" rx="1.8" ry="2.4" fill="#fff" opacity="0.92"/>
<ellipse cx="450.3" cy="1234.8" rx="1.1" ry="1.3" fill="#fff" opacity="0.63"/>
<ellipse cx="442.6" cy="1183.9" rx="2.1" ry="2.9" fill="#fff" opacity="0.81"/>
<ellipse cx="466.9" cy="1212.4" rx="2.1" ry="3.3" fill="#fff" opacity="0.74"/>
<ellipse cx="458.3" cy="1098.9" rx="1.9" ry="3.1" fill="#fff" opacity="0.94"/>
<ellipse cx="430.8" cy="1142.8" rx="1.8" ry="2.0" fill="#fff" opacity="0.61"/>
<ellipse cx="463.4" cy="1223.2" rx="1.9" ry="3.2" fill="#fff" opacity="0.94"/>
<ellipse cx="436.4" cy="1184.6" rx="1.0" ry="1.7" fill="#fff" opacity="0.81"/>
<ellipse cx="466.4" cy="1166.5" rx="2.1" ry="3.6" fill="#fff" opacity="0.88"/>
<ellipse cx="449.5" cy="1107.5" rx="1.1" ry="1.4" fill="#fff" opacity="0.72"/>
<ellipse cx="462.9" cy="1087.8" rx="2.1" ry="2.8" fill="#fff" opacity="0.78"/>
<ellipse cx="409.3" cy="1225.5" rx="1.5" ry="2.1" fill="#fff" opacity="0.56"/>
<ellipse cx="466.1" cy="1149.6" rx="1.1" ry="1.7" fill="#fff" opacity="0.62"/>
<ellipse cx="455.0" cy="1158.4" rx="1.3" ry="1.8" fill="#fff" opacity="0.86"/>
<ellipse cx="449.0" cy="1080.3" rx="1.6" ry="1.9" fill="#fff" opacity="0.86"/>
<ellipse cx="437.7" cy="1163.5" rx="2.1" ry="3.1" fill="#fff" opacity="0.75"/>
<ellipse cx="448.0" cy="1164.3" rx="1.8" ry="2.5" fill="#fff" opacity="0.74"/>
<ellipse cx="427.6" cy="1228.8" rx="2.1" ry="3.1" fill="#fff" opacity="0.93"/>
<ellipse cx="415.7" cy="1214.2" rx="1.0" ry="1.3" fill="#fff" opacity="0.58"/>
<ellipse cx="457.6" cy="1115.6" rx="1.9" ry="2.1" fill="#fff" opacity="0.84"/>
<ellipse cx="455.3" cy="1190.3" rx="1.0" ry="1.8" fill="#fff" opacity="0.64"/>
<ellipse cx="422.0" cy="1233.7" rx="2.2" ry="2.5" fill="#fff" opacity="0.72"/>
<ellipse cx="463.3" cy="1163.3" rx="1.3" ry="1.6" fill="#fff" opacity="0.84"/>
<ellipse cx="452.1" cy="1050.4" rx="0.8" ry="1.2" fill="#fff" opacity="0.75"/>
<ellipse cx="452.5" cy="1070.7" rx="2.2" ry="3.9" fill="#fff" opacity="0.59"/>
<ellipse cx="460.8" cy="1116.6" rx="1.2" ry="1.6" fill="#fff" opacity="0.91"/>
<ellipse cx="453.6" cy="1211.5" rx="1.2" ry="2.0" fill="#fff" opacity="0.78"/>
<ellipse cx="450.9" cy="1194.2" rx="1.8" ry="1.9" fill="#fff" opacity="0.93"/>
<ellipse cx="448.5" cy="1181.1" rx="1.9" ry="3.2" fill="#fff" opacity="0.58"/>
<ellipse cx="430.2" cy="1222.2" rx="1.6" ry="1.9" fill="#fff" opacity="0.60"/>
<ellipse cx="457.3" cy="1164.6" rx="1.1" ry="1.3" fill="#fff" opacity="0.57"/>
<ellipse cx="448.1" cy="1103.7" rx="1.9" ry="2.6" fill="#fff" opacity="0.62"/>
<ellipse cx="454.4" cy="1134.4" rx="0.8" ry="0.8" fill="#fff" opacity="0.84"/>
<ellipse cx="457.3" cy="1168.3" rx="2.1" ry="3.5" fill="#fff" opacity="0.72"/>
<ellipse cx="469.1" cy="1161.2" rx="2.0" ry="2.8" fill="#fff" opacity="0.83"/>
<ellipse cx="417.7" cy="1236.5" rx="1.8" ry="2.4" fill="#fff" opacity="0.69"/>
<ellipse cx="461.8" cy="1063.0" rx="1.0" ry="1.6" fill="#fff" opacity="0.65"/>
<circle cx="454.2" cy="1072.5" r="2.8" fill="#fff"/>
<ellipse cx="547.3" cy="1144.6" rx="1.6" ry="2.4" fill="#fff" opacity="0.86"/>
<ellipse cx="548.2" cy="1100.6" rx="0.8" ry="1.2" fill="#fff" opacity="0.53"/>
<ellipse cx="540.2" cy="1073.7" rx="1.4" ry="2.1" fill="#fff" opacity="0.56"/>
<ellipse cx="546.8" cy="1174.5" rx="1.0" ry="1.8" fill="#fff" opacity="0.54"/>
<ellipse cx="541.2" cy="1172.6" rx="1.2" ry="2.1" fill="#fff" opacity="0.57"/>
<ellipse cx="539.3" cy="1192.8" rx="2.1" ry="3.2" fill="#fff" opacity="0.54"/>
<ellipse cx="536.5" cy="1133.4" rx="1.9" ry="2.4" fill="#fff" opacity="0.85"/>
<ellipse cx="531.2" cy="1174.0" rx="1.4" ry="2.6" fill="#fff" opacity="0.74"/>
<ellipse cx="554.1" cy="1048.7" rx="1.4" ry="1.9" fill="#fff" opacity="0.65"/>
<ellipse cx="547.8" cy="1073.1" rx="1.7" ry="2.7" fill="#fff" opacity="0.53"/>
<ellipse cx="549.5" cy="1204.6" rx="1.8" ry="2.9" fill="#fff" opacity="0.68"/>
<ellipse cx="538.6" cy="1108.1" rx="2.1" ry="2.8" fill="#fff" opacity="0.85"/>
<ellipse cx="539.5" cy="1135.1" rx="2.0" ry="2.1" fill="#fff" opacity="0.89"/>
<ellipse cx="549.8" cy="1099.7" rx="2.1" ry="3.2" fill="#fff" opacity="0.53"/>
<ellipse cx="553.2" cy="1069.6" rx="1.7" ry="2.1" fill="#fff" opacity="0.58"/>
<ellipse cx="558.3" cy="1168.3" rx="1.0" ry="1.4" fill="#fff" opacity="0.79"/>
<ellipse cx="544.6" cy="1067.7" rx="1.9" ry="3.2" fill="#fff" opacity="0.59"/>
<ellipse cx="550.7" cy="1198.2" rx="1.9" ry="2.6" fill="#fff" opacity="0.56"/>
<ellipse cx="549.6" cy="1060.1" rx="1.7" ry="2.7" fill="#fff" opacity="0.61"/>
<ellipse cx="552.9" cy="1047.5" rx="1.0" ry="1.5" fill="#fff" opacity="0.67"/>
<ellipse cx="536.8" cy="1099.5" rx="1.5" ry="1.6" fill="#fff" opacity="0.90"/>
<ellipse cx="545.0" cy="1222.4" rx="1.6" ry="2.2" fill="#fff" opacity="0.87"/>
<ellipse cx="548.1" cy="1069.7" rx="1.2" ry="1.9" fill="#fff" opacity="0.56"/>
<ellipse cx="530.7" cy="1193.3" rx="1.4" ry="2.2" fill="#fff" opacity="0.54"/>
<ellipse cx="527.4" cy="1179.6" rx="1.1" ry="1.8" fill="#fff" opacity="0.76"/>
<ellipse cx="564.3" cy="1220.9" rx="0.9" ry="1.3" fill="#fff" opacity="0.78"/>
<ellipse cx="548.4" cy="1141.7" rx="1.7" ry="1.7" fill="#fff" opacity="0.66"/>
<ellipse cx="547.8" cy="1152.2" rx="1.5" ry="2.5" fill="#fff" opacity="0.65"/>
<ellipse cx="580.1" cy="1209.3" rx="1.6" ry="2.9" fill="#fff" opacity="0.84"/>
<ellipse cx="554.2" cy="1078.7" rx="1.3" ry="2.1" fill="#fff" opacity="0.60"/>
<ellipse cx="551.3" cy="1109.6" rx="2.1" ry="2.7" fill="#fff" opacity="0.80"/>
<ellipse cx="548.2" cy="1153.8" rx="1.5" ry="2.3" fill="#fff" opacity="0.61"/>
<ellipse cx="539.2" cy="1116.3" rx="1.4" ry="1.4" fill="#fff" opacity="0.56"/>
<ellipse cx="542.1" cy="1207.6" rx="0.9" ry="1.5" fill="#fff" opacity="0.75"/>
<ellipse cx="554.1" cy="1108.5" rx="1.2" ry="2.2" fill="#fff" opacity="0.82"/>
<ellipse cx="544.9" cy="1226.3" rx="2.1" ry="3.7" fill="#fff" opacity="0.89"/>
<ellipse cx="551.0" cy="1077.0" rx="1.6" ry="2.1" fill="#fff" opacity="0.84"/>
<ellipse cx="549.1" cy="1140.9" rx="1.1" ry="1.5" fill="#fff" opacity="0.75"/>
<ellipse cx="539.0" cy="1170.9" rx="1.4" ry="1.5" fill="#fff" opacity="0.73"/>
<ellipse cx="553.5" cy="1101.1" rx="1.8" ry="2.0" fill="#fff" opacity="0.76"/>
<ellipse cx="530.8" cy="1132.7" rx="1.9" ry="3.0" fill="#fff" opacity="0.60"/>
<ellipse cx="552.2" cy="1164.5" rx="1.3" ry="1.8" fill="#fff" opacity="0.70"/>
<ellipse cx="528.1" cy="1216.6" rx="1.5" ry="2.4" fill="#fff" opacity="0.63"/>
<ellipse cx="567.3" cy="1163.0" rx="0.9" ry="1.6" fill="#fff" opacity="0.54"/>
<ellipse cx="557.4" cy="1094.5" rx="2.0" ry="3.0" fill="#fff" opacity="0.67"/>
<ellipse cx="546.8" cy="1219.9" rx="1.5" ry="2.3" fill="#fff" opacity="0.66"/>
<ellipse cx="540.7" cy="1117.2" rx="1.1" ry="1.8" fill="#fff" opacity="0.74"/>
<ellipse cx="556.4" cy="1042.9" rx="1.8" ry="2.4" fill="#fff" opacity="0.85"/>
<ellipse cx="563.7" cy="1187.7" rx="1.2" ry="1.6" fill="#fff" opacity="0.78"/>
<ellipse cx="539.9" cy="1110.4" rx="1.3" ry="1.6" fill="#fff" opacity="0.75"/>
<ellipse cx="549.3" cy="1169.7" rx="1.1" ry="1.6" fill="#fff" opacity="0.56"/>
<ellipse cx="554.5" cy="1088.1" rx="1.1" ry="1.9" fill="#fff" opacity="0.60"/>
<ellipse cx="547.2" cy="1106.1" rx="2.0" ry="3.5" fill="#fff" opacity="0.79"/>
<ellipse cx="534.6" cy="1161.4" rx="0.9" ry="1.2" fill="#fff" opacity="0.70"/>
<ellipse cx="561.6" cy="1185.3" rx="2.1" ry="2.2" fill="#fff" opacity="0.66"/>
<circle cx="551.6" cy="1072.5" r="2.8" fill="#fff"/>
<ellipse cx="651.5" cy="1086.8" rx="1.0" ry="1.5" fill="#fff" opacity="0.59"/>
<ellipse cx="633.0" cy="1154.1" rx="1.6" ry="1.8" fill="#fff" opacity="0.67"/>
<ellipse cx="645.2" cy="1108.1" rx="1.3" ry="2.0" fill="#fff" opacity="0.84"/>
<ellipse cx="646.7" cy="1144.6" rx="1.8" ry="1.9" fill="#fff" opacity="0.55"/>
<ellipse cx="650.7" cy="1208.8" rx="1.0" ry="1.7" fill="#fff" opacity="0.81"/>
<ellipse cx="621.3" cy="1211.0" rx="1.1" ry="1.4" fill="#fff" opacity="0.75"/>
<ellipse cx="663.2" cy="1087.4" rx="1.8" ry="2.7" fill="#fff" opacity="0.70"/>
<ellipse cx="648.4" cy="1178.2" rx="1.3" ry="1.7" fill="#fff" opacity="0.60"/>
<ellipse cx="650.9" cy="1093.0" rx="1.1" ry="1.7" fill="#fff" opacity="0.70"/>
<ellipse cx="642.9" cy="1168.7" rx="0.9" ry="1.1" fill="#fff" opacity="0.53"/>
<ellipse cx="650.5" cy="1040.2" rx="1.2" ry="1.8" fill="#fff" opacity="0.52"/>
<ellipse cx="644.2" cy="1158.6" rx="1.3" ry="1.3" fill="#fff" opacity="0.62"/>
<ellipse cx="659.2" cy="1162.3" rx="1.5" ry="1.8" fill="#fff" opacity="0.51"/>
<ellipse cx="643.2" cy="1163.5" rx="2.1" ry="2.5" fill="#fff" opacity="0.74"/>
<ellipse cx="636.1" cy="1214.1" rx="1.3" ry="1.6" fill="#fff" opacity="0.57"/>
<ellipse cx="653.4" cy="1133.8" rx="0.9" ry="0.9" fill="#fff" opacity="0.77"/>
<ellipse cx="673.9" cy="1178.0" rx="1.1" ry="1.5" fill="#fff" opacity="0.61"/>
<ellipse cx="641.9" cy="1119.6" rx="1.4" ry="2.4" fill="#fff" opacity="0.54"/>
<ellipse cx="641.1" cy="1209.1" rx="1.3" ry="1.5" fill="#fff" opacity="0.62"/>
<ellipse cx="651.8" cy="1154.5" rx="2.0" ry="2.1" fill="#fff" opacity="0.69"/>
<ellipse cx="655.9" cy="1087.4" rx="2.1" ry="2.3" fill="#fff" opacity="0.50"/>
<ellipse cx="636.6" cy="1111.1" rx="2.0" ry="2.8" fill="#fff" opacity="0.63"/>
<ellipse cx="642.8" cy="1134.2" rx="1.8" ry="3.2" fill="#fff" opacity="0.68"/>
<ellipse cx="625.7" cy="1226.7" rx="1.4" ry="2.1" fill="#fff" opacity="0.80"/>
<ellipse cx="642.7" cy="1224.7" rx="1.5" ry="2.2" fill="#fff" opacity="0.60"/>
<ellipse cx="642.7" cy="1229.9" rx="1.2" ry="1.3" fill="#fff" opacity="0.51"/>
<ellipse cx="661.4" cy="1200.6" rx="2.0" ry="3.3" fill="#fff" opacity="0.65"/>
<ellipse cx="663.4" cy="1182.9" rx="2.0" ry="2.4" fill="#fff" opacity="0.77"/>
<ellipse cx="645.5" cy="1080.5" rx="1.5" ry="2.4" fill="#fff" opacity="0.66"/>
<ellipse cx="658.4" cy="1040.7" rx="0.8" ry="1.1" fill="#fff" opacity="0.83"/>
<ellipse cx="652.9" cy="1116.0" rx="1.4" ry="2.2" fill="#fff" opacity="0.67"/>
<ellipse cx="628.9" cy="1118.2" rx="1.4" ry="2.1" fill="#fff" opacity="0.56"/>
<ellipse cx="633.8" cy="1136.5" rx="1.6" ry="2.7" fill="#fff" opacity="0.56"/>
<ellipse cx="652.4" cy="1079.0" rx="1.6" ry="2.8" fill="#fff" opacity="0.67"/>
<ellipse cx="651.0" cy="1166.4" rx="1.8" ry="2.5" fill="#fff" opacity="0.84"/>
<ellipse cx="646.8" cy="1050.3" rx="2.0" ry="3.4" fill="#fff" opacity="0.55"/>
<ellipse cx="638.5" cy="1064.9" rx="1.2" ry="1.7" fill="#fff" opacity="0.58"/>
<ellipse cx="647.3" cy="1166.7" rx="0.8" ry="1.3" fill="#fff" opacity="0.62"/>
<ellipse cx="657.6" cy="1110.0" rx="1.4" ry="2.2" fill="#fff" opacity="0.53"/>
<ellipse cx="644.2" cy="1227.2" rx="2.1" ry="3.5" fill="#fff" opacity="0.74"/>
<ellipse cx="634.8" cy="1194.5" rx="1.2" ry="1.8" fill="#fff" opacity="0.71"/>
<ellipse cx="643.6" cy="1066.6" rx="1.7" ry="2.4" fill="#fff" opacity="0.77"/>
<ellipse cx="614.8" cy="1220.0" rx="1.5" ry="2.0" fill="#fff" opacity="0.83"/>
<ellipse cx="656.5" cy="1151.1" rx="2.1" ry="3.3" fill="#fff" opacity="0.82"/>
<ellipse cx="642.6" cy="1190.6" rx="1.5" ry="2.4" fill="#fff" opacity="0.78"/>
<circle cx="649.1" cy="1071.3" r="2.8" fill="#fff"/>
<ellipse cx="747.3" cy="1134.4" rx="1.9" ry="2.2" fill="#fff" opacity="0.66"/>
<ellipse cx="728.9" cy="1229.1" rx="1.5" ry="1.9" fill="#fff" opacity="0.73"/>
<ellipse cx="738.8" cy="1098.0" rx="1.6" ry="2.4" fill="#fff" opacity="0.78"/>
<ellipse cx="730.6" cy="1127.6" rx="1.3" ry="1.9" fill="#fff" opacity="0.56"/>
<ellipse cx="746.4" cy="1044.7" rx="1.5" ry="2.2" fill="#fff" opacity="0.72"/>
<ellipse cx="729.2" cy="1126.2" rx="0.9" ry="1.6" fill="#fff" opacity="0.47"/>
<ellipse cx="737.5" cy="1172.8" rx="1.8" ry="2.7" fill="#fff" opacity="0.60"/>
<ellipse cx="738.9" cy="1098.7" rx="1.2" ry="1.3" fill="#fff" opacity="0.54"/>
<ellipse cx="708.4" cy="1214.9" rx="2.1" ry="2.2" fill="#fff" opacity="0.78"/>
<ellipse cx="745.3" cy="1078.6" rx="1.9" ry="2.9" fill="#fff" opacity="0.60"/>
<ellipse cx="752.2" cy="1071.6" rx="1.1" ry="1.4" fill="#fff" opacity="0.52"/>
<ellipse cx="743.7" cy="1120.2" rx="1.8" ry="2.4" fill="#fff" opacity="0.63"/>
<ellipse cx="729.0" cy="1169.9" rx="2.2" ry="2.5" fill="#fff" opacity="0.58"/>
<ellipse cx="745.8" cy="1096.6" rx="1.3" ry="2.1" fill="#fff" opacity="0.66"/>
<ellipse cx="746.8" cy="1147.7" rx="1.6" ry="2.3" fill="#fff" opacity="0.68"/>
<ellipse cx="733.0" cy="1136.3" rx="2.2" ry="2.7" fill="#fff" opacity="0.59"/>
<ellipse cx="727.5" cy="1175.1" rx="1.1" ry="1.7" fill="#fff" opacity="0.73"/>
<ellipse cx="738.4" cy="1150.0" rx="1.4" ry="2.0" fill="#fff" opacity="0.63"/>
<ellipse cx="745.5" cy="1047.1" rx="2.0" ry="3.1" fill="#fff" opacity="0.54"/>
<ellipse cx="762.7" cy="1115.8" rx="1.5" ry="1.6" fill="#fff" opacity="0.63"/>
<ellipse cx="695.4" cy="1224.9" rx="0.9" ry="1.6" fill="#fff" opacity="0.48"/>
<ellipse cx="717.4" cy="1163.7" rx="1.9" ry="2.8" fill="#fff" opacity="0.76"/>
<ellipse cx="732.8" cy="1204.1" rx="1.6" ry="2.2" fill="#fff" opacity="0.56"/>
<ellipse cx="739.6" cy="1132.7" rx="1.6" ry="2.8" fill="#fff" opacity="0.61"/>
<ellipse cx="746.4" cy="1046.6" rx="1.9" ry="1.9" fill="#fff" opacity="0.72"/>
<ellipse cx="729.3" cy="1117.1" rx="1.3" ry="1.8" fill="#fff" opacity="0.55"/>
<ellipse cx="739.8" cy="1159.1" rx="1.1" ry="1.4" fill="#fff" opacity="0.54"/>
<ellipse cx="743.4" cy="1137.2" rx="1.1" ry="1.8" fill="#fff" opacity="0.52"/>
<ellipse cx="727.4" cy="1120.1" rx="1.3" ry="2.2" fill="#fff" opacity="0.52"/>
<ellipse cx="748.2" cy="1169.5" rx="1.0" ry="1.3" fill="#fff" opacity="0.74"/>
<ellipse cx="750.2" cy="1216.8" rx="1.7" ry="2.6" fill="#fff" opacity="0.73"/>
<ellipse cx="736.6" cy="1147.5" rx="1.3" ry="2.0" fill="#fff" opacity="0.74"/>
<ellipse cx="737.5" cy="1116.0" rx="1.1" ry="1.2" fill="#fff" opacity="0.64"/>
<ellipse cx="747.7" cy="1145.8" rx="2.0" ry="2.3" fill="#fff" opacity="0.78"/>
<ellipse cx="741.2" cy="1073.5" rx="1.2" ry="2.0" fill="#fff" opacity="0.57"/>
<ellipse cx="757.5" cy="1216.3" rx="2.1" ry="2.3" fill="#fff" opacity="0.50"/>
<ellipse cx="753.1" cy="1211.2" rx="1.9" ry="2.2" fill="#fff" opacity="0.54"/>
<ellipse cx="720.2" cy="1216.4" rx="2.0" ry="2.4" fill="#fff" opacity="0.49"/>
<ellipse cx="744.8" cy="1138.9" rx="1.2" ry="1.8" fill="#fff" opacity="0.49"/>
<ellipse cx="738.9" cy="1187.9" rx="1.5" ry="1.8" fill="#fff" opacity="0.57"/>
<ellipse cx="759.2" cy="1218.8" rx="1.1" ry="1.4" fill="#fff" opacity="0.77"/>
<ellipse cx="723.3" cy="1228.6" rx="1.1" ry="1.5" fill="#fff" opacity="0.62"/>
<ellipse cx="743.3" cy="1101.1" rx="2.1" ry="2.9" fill="#fff" opacity="0.69"/>
<ellipse cx="740.3" cy="1088.3" rx="2.0" ry="2.4" fill="#fff" opacity="0.60"/>
<ellipse cx="751.3" cy="1159.3" rx="1.1" ry="2.0" fill="#fff" opacity="0.76"/>
<circle cx="745.8" cy="1071.3" r="2.8" fill="#fff"/></g>
</g>
<rect x="203.8" y="1034" width="3.2" height="207.3" fill="#3a4358" opacity="0.75"/>
<rect x="204.6" y="1034" width="1.6" height="207.3" fill="#e3e6ee"/>
<rect x="300.9" y="1034" width="3.2" height="207.3" fill="#3a4358" opacity="0.75"/>
<rect x="301.7" y="1034" width="1.6" height="207.3" fill="#e3e6ee"/>
<rect x="398.0" y="1034" width="3.2" height="207.3" fill="#3a4358" opacity="0.75"/>
<rect x="398.8" y="1034" width="1.6" height="207.3" fill="#e3e6ee"/>
<rect x="497.0" y="1034" width="3.2" height="207.3" fill="#3a4358" opacity="0.75"/>
<rect x="497.8" y="1034" width="1.6" height="207.3" fill="#c9ccd6"/>
<rect x="594.6999999999999" y="1034" width="3.2" height="207.3" fill="#3a4358" opacity="0.75"/>
<rect x="595.5" y="1034" width="1.6" height="207.3" fill="#9a9ca6"/>
<rect x="691.4" y="1034" width="3.2" height="207.3" fill="#3a4358" opacity="0.75"/>
<rect x="692.2" y="1034" width="1.6" height="207.3" fill="#4a4c56"/>
<rect x="110.5" y="1034.5" width="679.5" height="206.3" fill="none" stroke="#34405e" stroke-width="1" opacity="0.7"/>
<path d="M110,1066.4 H790.5" stroke="#2a3a6c" stroke-width="1.1" stroke-dasharray="5,3.5" fill="none" opacity="0.6"/>
<path d="M134.4,1069 H175.2" stroke="#d8604a" stroke-width="1.6" fill="none"/>
<path d="M230,1069.5 h34" stroke="#34446c" stroke-width="1.2" opacity="0.4"/>
<path d="M325,1069.5 h34" stroke="#34446c" stroke-width="1.2" opacity="0.4"/>
<path d="M423,1069.5 h34" stroke="#34446c" stroke-width="1.2" opacity="0.4"/>
<path d="M521,1069.5 h34" stroke="#34446c" stroke-width="1.2" opacity="0.4"/>
<path d="M620,1069.5 h34" stroke="#34446c" stroke-width="1.2" opacity="0.4"/>
<path d="M716,1069.5 h34" stroke="#34446c" stroke-width="1.2" opacity="0.4"/>
<g stroke="#000" stroke-width="2.2" fill="none"><path d="M119.8,1135 H141.2 M119.8,1222.9 H141.2 M130.7,1138 V1220"/></g>
<path d="M130.7,1136 L135,1147 L126.4,1147 Z M130.7,1222 L135,1211 L126.4,1211 Z" fill="#000"/>
<text class="b" x="142.6" y="1190.6" font-size="21" style="fill:#0a1030" textLength="53.5" lengthAdjust="spacingAndGlyphs">1 mm</text>
</g>
<g id="panel-d">
<text class="b" x="833.5" y="743.5" font-size="43" textLength="51.5" lengthAdjust="spacingAndGlyphs">(d)</text>
<text class="ser" x="914" y="738.5" font-size="33" textLength="787" lengthAdjust="spacingAndGlyphs" style="fill:#222">Mass ratios of CaCO<tspan font-size="20" dy="6">3</tspan><tspan dy="-6">: CaSiO</tspan><tspan font-size="20" dy="6">3</tspan><tspan dy="-6"> (CN-1: 100:0, CN-2: 90:10,</tspan></text>
<text class="ser" x="914" y="778" font-size="33" textLength="417" lengthAdjust="spacingAndGlyphs" style="fill:#222">CN-3: 60:40, and CN-4: 30:70)</text>
<path d="M924.5,828.5 H1233" stroke="#333" stroke-width="2" fill="none"/>
<path d="M924.5,827.5 V1199" stroke="#2a2a2a" stroke-width="2.8" fill="none"/>
<path d="M923.1,1199 H1233" stroke="#111" stroke-width="3" fill="none"/>
<path d="M1233,827.5 V1200.5" stroke="#d25050" stroke-width="2" fill="none"/>
<path d="M924.5,1199.0 h6 M924.5,1172.5 h3.5 M924.5,1146.1 h6 M924.5,1119.6 h3.5 M924.5,1093.1 h6 M924.5,1066.7 h3.5 M924.5,1040.2 h6 M924.5,1013.8 h3.5 M924.5,987.3 h6 M924.5,960.8 h3.5 M924.5,934.4 h6 M924.5,907.9 h3.5 M924.5,881.4 h6 M924.5,855.0 h3.5 M924.5,828.5 h6" stroke="#2a2a2a" stroke-width="2" fill="none"/>
<path d="M1233,1199.0 h-6 M1233,1168.1 h-3.5 M1233,1137.2 h-6 M1233,1106.4 h-3.5 M1233,1075.5 h-6 M1233,1044.6 h-3.5 M1233,1013.8 h-6 M1233,982.9 h-3.5 M1233,952.0 h-6 M1233,921.1 h-3.5 M1233,890.2 h-6 M1233,859.4 h-3.5 M1233,828.5 h-6" stroke="#d25050" stroke-width="1.8" fill="none"/>
<path d="M963.3,1199 v-7 M1001.8,1199 v-4 M1040.3,1199 v-7 M1078.8,1199 v-4 M1117.4,1199 v-7 M1156.0,1199 v-4 M1194.6,1199 v-7" stroke="#111" stroke-width="2" fill="none"/>
<text x="916" y="1205.0" font-size="16.5" text-anchor="end" style="fill:#444;stroke:#444;stroke-width:0.3">60</text>
<text x="916" y="1152.1" font-size="16.5" text-anchor="end" style="fill:#444;stroke:#444;stroke-width:0.3">70</text>
<text x="916" y="1099.1" font-size="16.5" text-anchor="end" style="fill:#444;stroke:#444;stroke-width:0.3">80</text>
<text x="916" y="1046.2" font-size="16.5" text-anchor="end" style="fill:#444;stroke:#444;stroke-width:0.3">90</text>
<text x="916" y="993.3" font-size="16.5" text-anchor="end" style="fill:#444;stroke:#444;stroke-width:0.3">100</text>
<text x="916" y="940.4" font-size="16.5" text-anchor="end" style="fill:#444;stroke:#444;stroke-width:0.3">110</text>
<text x="916" y="887.4" font-size="16.5" text-anchor="end" style="fill:#444;stroke:#444;stroke-width:0.3">120</text>
<text x="916" y="834.5" font-size="16.5" text-anchor="end" style="fill:#444;stroke:#444;stroke-width:0.3">130</text>
<text x="1240.5" y="1205.0" font-size="16.5" style="fill:#dc5454;stroke:#dc5454;stroke-width:0.3">26</text>
<text x="1240.5" y="1143.2" font-size="16.5" style="fill:#dc5454;stroke:#dc5454;stroke-width:0.3">28</text>
<text x="1240.5" y="1081.5" font-size="16.5" style="fill:#dc5454;stroke:#dc5454;stroke-width:0.3">30</text>
<text x="1240.5" y="1019.8" font-size="16.5" style="fill:#dc5454;stroke:#dc5454;stroke-width:0.3">32</text>
<text x="1240.5" y="958.0" font-size="16.5" style="fill:#dc5454;stroke:#dc5454;stroke-width:0.3">34</text>
<text x="1240.5" y="896.2" font-size="16.5" style="fill:#dc5454;stroke:#dc5454;stroke-width:0.3">36</text>
<text x="1240.5" y="834.5" font-size="16.5" style="fill:#dc5454;stroke:#dc5454;stroke-width:0.3">38</text>
<text class="b" x="963.3" y="1224" font-size="17" text-anchor="middle" style="fill:#333">CN-1</text>
<text class="b" x="1040.3" y="1224" font-size="17" text-anchor="middle" style="fill:#333">CN-2</text>
<text class="b" x="1117.4" y="1224" font-size="17" text-anchor="middle" style="fill:#333">CN-3</text>
<text class="b" x="1194.6" y="1224" font-size="17" text-anchor="middle" style="fill:#333">CN-4</text>
<text class="b" x="993" y="1266" font-size="32" textLength="154.5" lengthAdjust="spacingAndGlyphs" style="fill:#111">Coat type</text>
<text class="b" transform="translate(872.5,1204) rotate(-90)" font-size="33" textLength="425" lengthAdjust="spacingAndGlyphs" style="fill:#111">Average pore radius  (nm)</text>
<text class="b" transform="translate(1294.5,1109.5) rotate(-90)" font-size="31.5" textLength="205" lengthAdjust="spacingAndGlyphs" style="fill:#e0262c">Porosity (%)</text>
<path d="M969.6,1061.0 L1034.0,944.8 M1045.6,945.3 L1112.1,1094.5 M1124.1,1095.2 L1187.9,987.9" stroke="#e23a3a" stroke-width="3" stroke-dasharray="4.5,12" fill="none"/>
<path d="M972.0,940.3 L1031.6,981.3 M1049.0,993.2 L1108.7,1034.3 M1126.1,1046.2 L1185.9,1087.2" stroke="#2a2a2a" stroke-width="3" fill="none"/>
<circle cx="963.3" cy="1072.4" r="8" fill="url(#gRed)"/>
<circle cx="1040.3" cy="933.5" r="8" fill="url(#gRed)"/>
<circle cx="1117.4" cy="1106.4" r="8" fill="url(#gRed)"/>
<circle cx="1194.6" cy="976.7" r="8" fill="url(#gRed)"/>
<circle cx="963.3" cy="934.4" r="8" fill="url(#gGray)"/>
<circle cx="1040.3" cy="987.3" r="8" fill="url(#gGray)"/>
<circle cx="1117.4" cy="1040.2" r="8" fill="url(#gGray)"/>
<circle cx="1194.6" cy="1093.1" r="8" fill="url(#gGray)"/>
<path d="M934,852 H944 M964,852 H975" stroke="#2a2a2a" stroke-width="2.6"/><circle cx="954" cy="852" r="7.6" fill="url(#gGray)"/>
<path d="M935,877.5 h3.5 M968,877.5 h6" stroke="#e23a3a" stroke-width="2.6"/><circle cx="955.3" cy="877.5" r="7.6" fill="url(#gRed)"/>
<text class="b" x="979.3" y="858.5" font-size="17" textLength="235" lengthAdjust="spacingAndGlyphs" style="fill:#222">Average pore diameter (nm)</text>
<text class="b" x="979.3" y="883.5" font-size="17" textLength="245" lengthAdjust="spacingAndGlyphs" style="fill:#222">Average Surface porosity (%)</text>
<path d="M1393.7,826.5 H1702.5 V1198" stroke="#333" stroke-width="1.8" fill="none"/>
<path d="M1393.7,825.5 V1198" stroke="#111" stroke-width="3" fill="none"/>
<path d="M1392.2,1198 H1703.5" stroke="#111" stroke-width="3" fill="none"/>
<path d="M1393.7,1198.0 h7 M1393.7,1160.8 h4 M1393.7,1123.7 h7 M1393.7,1086.5 h4 M1393.7,1049.4 h7 M1393.7,1012.2 h4 M1393.7,975.1 h7 M1393.7,938.0 h4 M1393.7,900.8 h7 M1393.7,863.6 h4 M1393.7,826.5 h7 M1432.5,1198 v-7 M1470.8,1198 v-4 M1509,1198 v-7 M1547.7,1198 v-4 M1586.4,1198 v-7 M1624.7,1198 v-4 M1663,1198 v-7" stroke="#111" stroke-width="2" fill="none"/>
<text class="b" x="1385.5" y="1204.0" font-size="17" text-anchor="end" style="fill:#222">50</text>
<text class="b" x="1385.5" y="1129.7" font-size="17" text-anchor="end" style="fill:#222">60</text>
<text class="b" x="1385.5" y="1055.4" font-size="17" text-anchor="end" style="fill:#222">70</text>
<text class="b" x="1385.5" y="981.1" font-size="17" text-anchor="end" style="fill:#222">80</text>
<text class="b" x="1385.5" y="906.8" font-size="17" text-anchor="end" style="fill:#222">90</text>
<text class="b" x="1385.5" y="832.5" font-size="17" text-anchor="end" style="fill:#222">100</text>
<text class="b" x="1411.5" y="1222" font-size="20.5" textLength="42" lengthAdjust="spacingAndGlyphs" style="fill:#222">CN-1</text>
<text class="b" x="1488" y="1222" font-size="20.5" textLength="42" lengthAdjust="spacingAndGlyphs" style="fill:#222">CN-2</text>
<text class="b" x="1565.4" y="1222" font-size="20.5" textLength="42" lengthAdjust="spacingAndGlyphs" style="fill:#222">CN-3</text>
<text class="b" x="1642" y="1222" font-size="20.5" textLength="42" lengthAdjust="spacingAndGlyphs" style="fill:#222">CN-4</text>
<text class="b" x="1467" y="1266" font-size="32" textLength="154.5" lengthAdjust="spacingAndGlyphs" style="fill:#111">Coat type</text>
<text class="b" transform="translate(1342.5,1211) rotate(-90)" font-size="32" textLength="396" lengthAdjust="spacingAndGlyphs" style="fill:#111">Surface energy (mN m<tspan font-size="15" dy="-15">-1</tspan><tspan dy="15">)</tspan></text>
<path d="M1436.0,905.7 L1505.5,1089.8 M1516.4,1105.9 L1579.0,1163.0 M1596.3,1168.6 L1653.1,1162.0" stroke="#111" stroke-width="2.6" fill="none"/>
<circle cx="1432.5" cy="896.3" r="7.7" fill="url(#gBlk)"/>
<circle cx="1509" cy="1099.2" r="7.7" fill="url(#gBlk)"/>
<circle cx="1586.4" cy="1169.8" r="7.7" fill="url(#gBlk)"/>
<circle cx="1663" cy="1160.8" r="7.7" fill="url(#gBlk)"/>
<rect x="846" y="1233.5" width="1.5" height="4.5" fill="#777"/>
</g>
</svg>
</body></html>
